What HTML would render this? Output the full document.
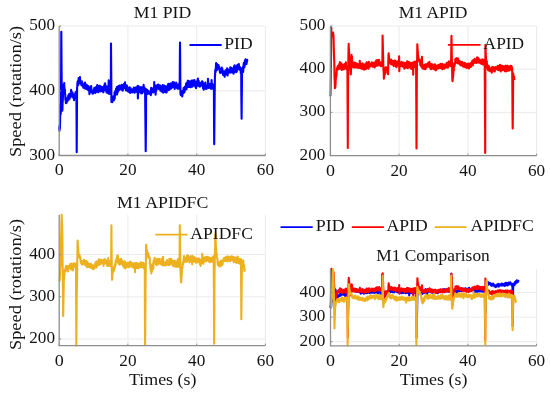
<!DOCTYPE html><html><head><meta charset="utf-8"><style>html,body{margin:0;padding:0;background:#fff;}svg{display:block;filter:blur(0.35px);}</style></head><body><svg width="550" height="393" viewBox="0 0 550 393"><rect width="550" height="393" fill="#ffffff"/><line x1="59.2" y1="155.5" x2="265.4" y2="155.5" stroke="#ebebeb" stroke-width="1"/><line x1="59.2" y1="90.8" x2="265.4" y2="90.8" stroke="#ebebeb" stroke-width="1"/><line x1="59.2" y1="26.0" x2="265.4" y2="26.0" stroke="#ebebeb" stroke-width="1"/><line x1="127.9" y1="26.0" x2="127.9" y2="155.5" stroke="#ebebeb" stroke-width="1"/><line x1="196.7" y1="26.0" x2="196.7" y2="155.5" stroke="#ebebeb" stroke-width="1"/><line x1="265.4" y1="26.0" x2="265.4" y2="155.5" stroke="#ebebeb" stroke-width="1"/><line x1="330.4" y1="155.6" x2="536.6" y2="155.6" stroke="#ebebeb" stroke-width="1"/><line x1="330.4" y1="112.4" x2="536.6" y2="112.4" stroke="#ebebeb" stroke-width="1"/><line x1="330.4" y1="69.2" x2="536.6" y2="69.2" stroke="#ebebeb" stroke-width="1"/><line x1="330.4" y1="26.0" x2="536.6" y2="26.0" stroke="#ebebeb" stroke-width="1"/><line x1="399.1" y1="26.0" x2="399.1" y2="155.6" stroke="#ebebeb" stroke-width="1"/><line x1="467.9" y1="26.0" x2="467.9" y2="155.6" stroke="#ebebeb" stroke-width="1"/><line x1="536.6" y1="26.0" x2="536.6" y2="155.6" stroke="#ebebeb" stroke-width="1"/><line x1="59.2" y1="339.0" x2="265.4" y2="339.0" stroke="#ebebeb" stroke-width="1"/><line x1="59.2" y1="296.8" x2="265.4" y2="296.8" stroke="#ebebeb" stroke-width="1"/><line x1="59.2" y1="254.5" x2="265.4" y2="254.5" stroke="#ebebeb" stroke-width="1"/><line x1="127.9" y1="214.7" x2="127.9" y2="345.6" stroke="#ebebeb" stroke-width="1"/><line x1="196.7" y1="214.7" x2="196.7" y2="345.6" stroke="#ebebeb" stroke-width="1"/><line x1="265.4" y1="214.7" x2="265.4" y2="345.6" stroke="#ebebeb" stroke-width="1"/><line x1="330.5" y1="341.7" x2="536.6" y2="341.7" stroke="#ebebeb" stroke-width="1"/><line x1="330.5" y1="317.1" x2="536.6" y2="317.1" stroke="#ebebeb" stroke-width="1"/><line x1="330.5" y1="292.5" x2="536.6" y2="292.5" stroke="#ebebeb" stroke-width="1"/><line x1="399.2" y1="268.8" x2="399.2" y2="345.8" stroke="#ebebeb" stroke-width="1"/><line x1="467.9" y1="268.8" x2="467.9" y2="345.8" stroke="#ebebeb" stroke-width="1"/><line x1="536.6" y1="268.8" x2="536.6" y2="345.8" stroke="#ebebeb" stroke-width="1"/><polyline fill="none" stroke="#0000ff" stroke-width="2.1" stroke-linejoin="round" points="59.2,129.7 59.4,126.1 59.5,130.7 59.7,126.9 59.9,128.7 60.1,119.9 60.2,110.4 60.4,105.0 60.6,107.3 60.7,114.2 60.9,110.0 61.1,73.4 61.3,31.7 61.4,45.0 61.6,71.1 61.8,90.8 61.9,98.9 62.1,105.0 62.3,110.8 62.5,107.9 62.6,100.4 62.8,101.1 63.0,94.3 63.2,89.6 63.3,87.3 63.5,84.9 63.6,85.4 63.8,87.5 64.0,88.2 64.2,83.1 64.4,87.4 64.5,89.8 64.7,90.2 64.9,89.4 65.0,93.8 65.2,94.0 65.4,99.9 65.5,97.9 65.7,99.9 65.9,103.1 66.1,98.7 66.2,99.4 66.4,101.7 66.6,102.7 66.8,98.5 66.9,100.5 67.1,100.7 67.3,98.4 67.5,101.1 67.6,97.6 67.8,97.9 68.0,97.0 68.1,99.2 68.3,95.4 68.5,98.0 68.7,99.8 68.8,95.0 69.0,95.5 69.2,94.0 69.3,95.9 69.5,96.2 69.7,98.6 69.9,95.6 70.0,94.4 70.2,93.5 70.4,96.7 70.5,95.3 70.7,93.2 70.9,92.2 71.1,89.9 71.3,93.1 71.4,92.8 71.6,91.2 71.7,94.6 71.9,94.0 72.1,96.7 72.3,94.3 72.4,92.5 72.6,92.8 72.8,94.5 72.9,96.3 73.1,96.6 73.3,96.1 73.5,98.5 73.6,96.6 73.8,98.7 74.0,97.4 74.1,100.3 74.3,97.3 74.5,98.4 74.7,94.3 74.8,97.3 75.0,94.4 75.2,97.4 75.4,93.7 75.5,92.2 75.7,93.0 75.9,92.2 76.0,91.8 76.2,93.4 76.4,92.9 76.6,125.6 76.7,152.2 76.9,117.6 77.1,87.4 77.2,87.5 77.4,83.5 77.6,82.0 77.8,81.1 77.9,83.7 78.1,85.3 78.3,84.2 78.4,83.6 78.6,78.1 78.8,79.7 79.0,83.4 79.1,81.0 79.3,80.9 79.5,79.0 79.6,80.9 79.8,79.6 80.0,77.1 80.2,81.6 80.3,82.4 80.5,82.2 80.7,82.2 80.9,83.1 81.0,83.8 81.2,83.7 81.4,83.6 81.5,85.5 81.7,84.4 81.9,81.3 82.1,83.4 82.2,83.8 82.4,83.3 82.6,85.2 82.7,83.4 82.9,84.7 83.1,84.8 83.3,87.6 83.4,86.2 83.6,87.5 83.8,87.7 83.9,85.1 84.1,85.6 84.3,86.9 84.5,84.8 84.6,85.5 84.8,88.5 85.0,82.5 85.1,86.7 85.3,87.1 85.5,84.3 85.7,87.9 85.8,85.3 86.0,87.0 86.2,86.5 86.3,88.9 86.5,84.7 86.7,88.4 86.9,85.1 87.0,86.1 87.2,85.9 87.4,88.1 87.6,87.9 87.7,89.5 87.9,86.6 88.1,90.1 88.2,86.0 88.4,87.9 88.6,90.4 88.8,89.4 89.0,89.2 89.1,90.8 89.3,91.3 89.4,94.1 89.6,90.1 89.8,87.7 90.0,90.9 90.1,87.5 90.3,90.2 90.5,91.4 90.6,86.4 90.8,92.2 91.0,90.1 91.2,86.0 91.3,91.6 91.5,88.9 91.7,91.5 91.8,90.8 92.0,90.5 92.2,92.2 92.4,90.5 92.5,93.7 92.7,92.2 92.9,91.4 93.1,91.6 93.2,93.4 93.4,92.1 93.6,90.6 93.7,92.1 93.9,89.8 94.1,89.8 94.3,87.9 94.4,89.0 94.6,90.2 94.8,90.5 94.9,89.8 95.1,88.7 95.3,93.0 95.5,88.6 95.6,91.6 95.8,87.4 96.0,89.3 96.1,88.2 96.3,92.0 96.5,90.2 96.7,88.7 96.8,86.5 97.0,89.6 97.2,85.1 97.3,91.7 97.5,87.3 97.7,89.7 97.9,87.4 98.0,90.4 98.2,91.9 98.4,92.3 98.5,91.0 98.7,91.0 98.9,89.5 99.1,90.5 99.2,85.9 99.4,87.4 99.6,87.0 99.8,88.3 99.9,86.5 100.1,85.9 100.3,91.3 100.4,91.0 100.6,91.4 100.8,90.3 101.0,88.2 101.1,90.3 101.3,90.4 101.5,90.7 101.6,91.0 101.8,86.9 102.0,87.6 102.2,89.2 102.3,91.3 102.5,88.6 102.7,87.6 102.8,91.7 103.0,89.6 103.2,91.1 103.4,92.2 103.5,89.8 103.7,90.4 103.9,88.9 104.0,86.0 104.2,90.2 104.4,88.6 104.6,84.2 104.7,89.1 104.9,89.3 105.1,83.4 105.3,85.9 105.4,89.7 105.6,90.5 105.8,89.3 105.9,89.4 106.1,87.8 106.3,89.2 106.5,92.5 106.6,86.2 106.8,90.2 107.0,92.0 107.1,92.3 107.3,89.4 107.5,92.7 107.7,87.7 107.8,88.6 108.0,93.2 108.2,87.3 108.3,88.7 108.5,87.9 108.7,80.2 108.9,89.5 109.0,93.5 109.2,93.8 109.4,92.6 109.5,87.2 109.7,90.4 109.9,87.3 110.1,89.6 110.2,85.7 110.4,93.7 110.6,91.4 110.8,90.4 111.0,43.6 111.1,55.6 111.3,78.8 111.4,101.9 111.6,101.4 111.8,98.7 112.0,100.1 112.1,97.2 112.3,102.1 112.5,100.0 112.6,99.8 112.8,97.8 113.0,99.4 113.2,98.1 113.3,96.3 113.5,96.4 113.7,97.1 113.8,100.5 114.0,99.6 114.2,98.0 114.4,97.5 114.5,92.6 114.7,98.7 114.9,95.1 115.0,94.6 115.2,91.0 115.4,94.7 115.6,94.5 115.8,92.0 115.9,93.2 116.1,88.9 116.2,89.1 116.4,92.1 116.6,92.0 116.8,87.0 116.9,89.9 117.1,94.4 117.3,88.4 117.5,89.5 117.6,92.7 117.8,89.6 118.0,91.6 118.1,91.1 118.3,86.1 118.5,88.1 118.7,87.6 118.8,87.9 119.0,90.2 119.2,86.8 119.3,88.6 119.5,85.5 119.7,86.7 119.9,88.1 120.0,88.8 120.2,88.1 120.4,87.5 120.5,87.2 120.7,87.8 120.9,88.6 121.1,86.9 121.2,89.8 121.4,86.5 121.6,84.8 121.7,85.7 121.9,86.8 122.1,88.9 122.3,87.5 122.4,88.0 122.6,85.3 122.8,90.6 123.0,85.2 123.1,88.9 123.3,88.0 123.5,87.3 123.6,87.0 123.8,88.2 124.0,83.9 124.2,86.3 124.3,84.0 124.5,86.2 124.7,86.6 124.8,84.3 125.0,82.3 125.2,88.5 125.4,87.1 125.5,87.9 125.7,86.1 125.9,89.8 126.0,90.4 126.2,87.2 126.4,86.8 126.6,87.5 126.7,85.2 126.9,86.9 127.1,88.5 127.2,86.4 127.4,88.7 127.6,88.9 127.8,91.2 127.9,89.6 128.1,87.7 128.3,89.3 128.4,91.6 128.6,88.2 128.8,91.6 129.0,91.7 129.1,90.7 129.3,89.7 129.5,91.0 129.7,87.4 129.8,92.4 130.0,90.2 130.2,93.0 130.3,92.7 130.5,92.7 130.7,88.4 130.9,90.1 131.0,89.6 131.2,92.3 131.4,89.9 131.5,92.3 131.7,91.7 131.9,90.1 132.1,92.3 132.2,91.7 132.4,92.3 132.6,91.0 132.7,89.3 132.9,90.8 133.1,89.3 133.3,89.0 133.4,90.6 133.6,88.3 133.8,89.6 133.9,87.5 134.1,87.7 134.3,91.6 134.5,92.8 134.6,91.0 134.8,90.6 135.0,90.8 135.2,89.2 135.3,92.0 135.5,89.2 135.7,88.7 135.8,89.2 136.0,87.4 136.2,87.8 136.4,91.7 136.5,91.8 136.7,88.6 136.9,91.5 137.0,88.1 137.2,91.0 137.4,91.2 137.6,89.4 137.7,85.8 137.9,98.5 138.1,91.4 138.2,86.7 138.4,90.0 138.6,91.3 138.8,86.5 138.9,91.8 139.1,91.7 139.3,88.7 139.4,89.2 139.6,88.7 139.8,90.5 140.0,88.5 140.1,92.5 140.3,89.9 140.5,89.2 140.6,87.5 140.8,87.1 141.0,87.5 141.2,93.5 141.3,90.1 141.5,90.0 141.7,87.4 141.9,90.2 142.0,93.3 142.2,93.2 142.4,91.7 142.5,89.6 142.7,92.4 142.9,90.2 143.1,91.6 143.2,90.9 143.4,90.7 143.6,84.9 143.7,91.2 143.9,89.6 144.1,87.8 144.3,87.4 144.4,87.4 144.6,91.4 144.8,89.6 144.9,88.4 145.1,90.0 145.3,111.0 145.5,128.9 145.7,151.3 145.8,141.3 146.0,122.1 146.1,90.7 146.3,89.4 146.5,92.2 146.7,93.8 146.8,91.8 147.0,92.5 147.2,90.1 147.4,93.9 147.5,91.4 147.7,91.4 147.9,90.6 148.0,90.5 148.2,93.6 148.4,93.3 148.6,93.5 148.7,92.1 148.9,93.6 149.1,93.2 149.2,93.8 149.4,93.6 149.6,92.4 149.8,93.1 149.9,92.7 150.1,91.8 150.3,93.5 150.4,91.3 150.6,90.7 150.8,95.2 151.0,91.9 151.1,88.0 151.3,87.8 151.5,88.8 151.6,92.9 151.8,88.7 152.0,89.4 152.2,89.3 152.3,88.9 152.5,90.5 152.7,88.7 152.8,89.0 153.0,89.2 153.2,91.3 153.4,92.1 153.5,92.3 153.7,88.5 153.9,87.1 154.1,91.0 154.2,82.0 154.4,90.4 154.6,87.8 154.7,89.8 154.9,91.6 155.1,89.4 155.3,92.1 155.4,91.4 155.6,94.6 155.8,90.7 155.9,85.6 156.1,88.1 156.3,90.7 156.5,87.3 156.6,87.6 156.8,86.9 157.0,88.7 157.1,87.6 157.3,85.0 157.5,87.2 157.7,86.9 157.8,84.9 158.0,88.4 158.2,84.6 158.3,88.2 158.5,85.0 158.7,88.9 158.9,88.5 159.0,88.7 159.2,86.2 159.4,85.8 159.6,86.6 159.7,89.2 159.9,85.3 160.1,85.9 160.2,86.4 160.4,90.6 160.6,85.8 160.8,89.4 160.9,88.8 161.1,90.9 161.3,87.3 161.4,91.4 161.6,88.4 161.8,91.2 162.0,88.5 162.1,90.4 162.3,90.1 162.5,91.1 162.6,87.5 162.8,85.1 163.0,92.1 163.2,92.7 163.3,89.5 163.5,91.3 163.7,87.9 163.8,90.0 164.0,88.4 164.2,85.6 164.4,87.5 164.5,86.1 164.7,86.2 164.9,87.9 165.0,90.4 165.2,92.1 165.4,91.4 165.6,89.8 165.7,86.4 165.9,89.4 166.1,92.5 166.3,92.0 166.4,88.7 166.6,92.3 166.8,90.9 166.9,91.0 167.1,88.8 167.3,86.7 167.5,89.8 167.6,85.7 167.8,85.1 168.0,87.7 168.1,86.1 168.3,83.9 168.5,87.5 168.7,86.9 168.8,90.3 169.0,86.9 169.2,88.9 169.3,84.1 169.5,86.7 169.7,89.3 169.9,86.7 170.0,87.5 170.2,88.5 170.4,86.1 170.5,84.8 170.7,84.8 170.9,83.4 171.1,85.8 171.2,88.2 171.4,88.3 171.6,85.4 171.8,83.5 171.9,86.0 172.1,83.3 172.3,83.4 172.4,86.8 172.6,83.5 172.8,82.0 173.0,82.8 173.1,87.3 173.3,83.1 173.5,83.4 173.6,85.7 173.8,86.4 174.0,82.4 174.2,86.8 174.3,87.3 174.5,83.2 174.7,89.0 174.8,86.5 175.0,87.8 175.2,86.5 175.4,86.0 175.5,84.9 175.7,87.0 175.9,83.7 176.0,83.1 176.2,82.6 176.4,86.4 176.6,85.5 176.7,86.3 176.9,87.9 177.1,86.2 177.2,85.2 177.4,85.1 177.6,88.7 177.8,87.3 177.9,84.5 178.1,86.3 178.3,85.5 178.5,88.6 178.6,85.7 178.8,87.1 179.0,88.5 179.1,86.2 179.3,83.5 179.5,82.9 179.7,86.5 179.8,66.2 180.0,42.5 180.2,61.1 180.3,79.4 180.5,94.5 180.7,90.6 180.9,93.3 181.0,95.1 181.2,91.4 181.4,94.8 181.5,91.7 181.7,94.6 181.9,94.6 182.0,94.2 182.2,96.4 182.4,95.6 182.6,90.8 182.7,90.9 182.9,93.4 183.1,90.5 183.3,90.2 183.4,90.7 183.6,88.1 183.8,87.9 184.0,92.7 184.1,91.7 184.3,88.1 184.5,87.3 184.6,92.0 184.8,86.9 185.0,87.8 185.2,89.2 185.3,88.9 185.5,89.7 185.7,86.2 185.8,89.1 186.0,85.2 186.2,83.4 186.4,84.0 186.5,89.3 186.7,84.1 186.9,83.2 187.0,86.7 187.2,85.3 187.4,82.3 187.6,87.2 187.7,80.9 187.9,80.7 188.1,80.9 188.2,81.6 188.4,86.2 188.6,82.5 188.8,81.1 188.9,87.0 189.1,81.3 189.3,84.9 189.4,83.4 189.6,83.8 189.8,83.0 190.0,85.7 190.1,84.9 190.3,82.8 190.5,87.3 190.7,85.3 190.8,81.3 191.0,81.1 191.2,85.9 191.4,81.8 191.5,85.8 191.7,80.6 191.9,81.0 192.0,84.9 192.2,86.8 192.4,83.3 192.5,80.5 192.7,82.5 192.9,83.9 193.1,80.9 193.2,82.7 193.4,83.1 193.6,85.7 193.7,80.3 193.9,81.2 194.1,82.7 194.3,84.4 194.4,80.0 194.6,85.5 194.8,85.3 194.9,83.4 195.1,82.9 195.3,83.1 195.5,87.1 195.6,82.3 195.8,83.7 196.0,88.1 196.2,85.0 196.3,81.5 196.5,82.6 196.7,86.5 196.8,85.2 197.0,82.8 197.2,81.6 197.4,81.2 197.5,84.1 197.7,79.3 197.9,78.6 198.0,82.3 198.2,84.8 198.4,81.1 198.6,82.7 198.7,80.8 198.9,86.3 199.1,83.9 199.2,84.2 199.4,86.1 199.6,83.0 199.8,84.4 199.9,86.6 200.1,86.4 200.3,83.0 200.4,83.3 200.6,84.7 200.8,84.2 201.0,85.8 201.1,83.1 201.3,84.2 201.5,85.3 201.6,82.4 201.8,81.7 202.0,81.3 202.2,84.1 202.3,82.4 202.5,83.2 202.7,81.9 202.9,85.5 203.0,88.2 203.2,87.6 203.4,86.9 203.5,87.8 203.7,89.6 203.9,83.9 204.1,87.1 204.2,87.6 204.4,83.5 204.6,84.6 204.7,83.7 204.9,87.3 205.1,84.3 205.3,82.6 205.4,85.5 205.6,88.8 205.8,86.0 205.9,88.4 206.1,89.0 206.3,86.4 206.5,88.8 206.6,87.5 206.8,88.5 207.0,86.6 207.1,87.8 207.3,85.6 207.5,85.9 207.7,84.5 207.8,84.1 208.0,78.8 208.2,81.8 208.4,85.0 208.5,85.9 208.7,88.0 208.9,83.5 209.0,87.8 209.2,86.7 209.4,83.8 209.6,83.8 209.7,87.4 209.9,86.9 210.1,86.4 210.2,86.9 210.4,88.0 210.6,86.2 210.8,86.6 210.9,84.8 211.1,88.9 211.3,88.5 211.4,84.8 211.6,80.0 211.8,83.2 212.0,84.8 212.1,84.8 212.3,87.2 212.5,85.2 212.6,86.1 212.8,87.6 213.0,84.6 213.2,89.0 213.3,86.0 213.5,88.1 213.7,89.3 213.9,88.3 214.0,114.6 214.2,144.2 214.4,124.2 214.5,113.0 214.7,93.8 214.9,76.9 215.1,74.6 215.2,70.5 215.4,70.0 215.6,72.3 215.7,68.7 215.9,66.5 216.1,63.1 216.2,64.5 216.4,65.5 216.6,66.2 216.8,65.7 216.9,63.8 217.1,70.1 217.3,69.3 217.5,65.2 217.6,66.7 217.8,66.6 218.0,67.3 218.1,68.8 218.3,68.0 218.5,65.0 218.7,67.0 218.8,68.8 219.0,66.5 219.2,66.8 219.3,68.9 219.5,68.1 219.7,70.3 219.9,72.6 220.0,68.7 220.2,73.0 220.4,69.3 220.6,71.6 220.7,70.8 220.9,68.7 221.1,72.7 221.2,70.4 221.4,71.6 221.6,71.9 221.8,67.5 221.9,70.4 222.1,72.3 222.3,71.1 222.4,68.9 222.6,70.0 222.8,70.7 223.0,73.2 223.1,74.9 223.3,71.5 223.5,72.5 223.6,73.6 223.8,75.1 224.0,73.9 224.2,72.6 224.3,75.1 224.5,74.2 224.7,76.8 224.8,72.4 225.0,74.0 225.2,73.9 225.4,70.3 225.5,74.6 225.7,74.5 225.9,70.3 226.1,70.8 226.2,71.2 226.4,74.5 226.6,71.6 226.7,73.3 226.9,73.2 227.1,68.3 227.3,69.6 227.4,71.6 227.6,75.4 227.8,72.4 227.9,69.3 228.1,72.4 228.3,72.6 228.5,71.4 228.6,72.7 228.8,70.6 229.0,69.9 229.1,71.8 229.3,70.9 229.5,70.6 229.7,71.0 229.8,71.7 230.0,72.3 230.2,68.5 230.3,67.3 230.5,72.6 230.7,68.1 230.9,68.4 231.0,70.1 231.2,67.7 231.4,70.6 231.5,71.5 231.7,71.8 231.9,71.8 232.1,70.9 232.2,72.4 232.4,69.1 232.6,71.1 232.8,70.3 232.9,68.3 233.1,71.9 233.3,71.6 233.4,69.9 233.6,73.8 233.8,69.1 234.0,69.2 234.1,66.0 234.3,68.6 234.5,70.5 234.6,65.4 234.8,71.9 235.0,70.7 235.2,67.7 235.3,68.5 235.5,69.7 235.7,66.8 235.8,69.8 236.0,70.7 236.2,66.8 236.4,72.3 236.5,68.0 236.7,69.8 236.9,71.3 237.0,66.7 237.2,68.4 237.4,64.7 237.6,67.0 237.7,67.1 237.9,68.5 238.1,69.2 238.3,65.1 238.4,69.2 238.6,65.6 238.8,67.2 238.9,64.1 239.1,68.2 239.3,68.0 239.5,69.1 239.6,66.9 239.8,67.0 240.0,68.2 240.1,70.1 240.3,67.5 240.5,68.3 240.7,71.5 240.8,73.4 241.0,72.2 241.2,70.2 241.3,93.0 241.6,118.8 241.7,106.7 241.9,88.6 242.0,68.2 242.2,70.8 242.4,70.5 242.5,70.3 242.7,69.5 242.9,68.0 243.1,66.6 243.2,72.0 243.4,66.5 243.6,65.1 243.7,64.0 243.9,62.7 244.1,62.7 244.3,67.4 244.4,63.7 244.6,66.6 244.8,60.9 245.0,60.2 245.1,63.4 245.3,61.0 245.5,61.1 245.6,59.2 245.8,63.4 246.0,64.2 246.2,60.3 246.3,59.9 246.5,63.9 246.7,61.1 246.8,61.3 247.0,61.9 247.2,59.9 247.4,61.0"/><polyline fill="none" stroke="#ff0000" stroke-width="2.1" stroke-linejoin="round" points="330.4,96.2 330.6,92.8 330.7,86.3 330.9,71.4 331.1,49.6 331.3,27.6 331.4,30.9 331.6,33.1 331.8,32.9 331.9,32.7 332.1,34.0 332.3,36.1 332.5,34.6 332.6,33.7 332.8,34.6 333.0,34.7 333.1,32.5 333.3,35.1 333.5,34.8 333.7,42.5 333.8,48.8 334.0,54.5 334.2,60.4 334.4,67.8 334.5,76.5 334.7,80.3 334.9,88.3 335.0,86.4 335.2,87.8 335.4,86.2 335.6,84.2 335.7,79.3 335.9,79.0 336.1,76.2 336.2,74.4 336.4,76.1 336.6,73.0 336.8,70.0 336.9,68.9 337.1,69.9 337.3,67.2 337.4,69.2 337.6,67.2 337.8,68.6 338.0,65.9 338.1,67.3 338.3,67.2 338.5,67.5 338.7,66.9 338.8,69.2 339.0,65.2 339.2,66.9 339.3,64.1 339.5,63.7 339.7,65.7 339.9,62.0 340.0,68.4 340.2,63.4 340.4,64.5 340.5,65.4 340.7,67.2 340.9,66.1 341.1,63.3 341.3,63.5 341.4,67.3 341.6,63.6 341.7,69.9 341.9,68.3 342.1,68.7 342.3,68.8 342.5,69.6 342.6,67.6 342.8,68.4 342.9,67.5 343.1,67.3 343.3,67.8 343.5,64.9 343.6,68.9 343.8,66.8 344.0,67.7 344.1,69.2 344.3,67.2 344.5,64.1 344.7,64.7 344.8,68.6 345.0,65.6 345.2,67.6 345.3,64.9 345.5,66.4 345.7,68.1 345.9,62.4 346.0,66.1 346.2,67.9 346.4,68.1 346.6,67.3 346.7,67.5 346.9,66.5 347.1,69.9 347.2,68.7 347.4,67.3 347.6,104.6 347.8,148.0 347.9,116.1 348.1,78.1 348.3,65.8 348.4,55.6 348.7,43.7 348.8,48.5 349.0,48.6 349.1,50.8 349.3,56.7 349.5,59.6 349.6,60.7 349.8,62.8 350.0,62.6 350.2,65.9 350.3,67.5 350.5,71.2 350.7,69.7 350.8,74.5 351.0,70.9 351.2,65.3 351.4,59.5 351.5,54.9 351.7,56.6 351.9,56.4 352.1,58.7 352.2,60.9 352.4,61.3 352.6,63.9 352.7,63.6 352.9,64.5 353.1,62.5 353.3,67.5 353.4,64.8 353.6,64.8 353.8,64.7 353.9,66.9 354.1,66.5 354.3,66.0 354.5,67.5 354.6,67.5 354.8,62.5 355.0,65.1 355.1,67.5 355.3,65.9 355.5,66.4 355.7,64.5 355.8,67.5 356.0,63.9 356.2,63.2 356.3,66.9 356.5,65.2 356.7,66.1 356.9,63.6 357.0,67.4 357.2,64.6 357.4,64.2 357.5,64.6 357.7,64.3 357.9,64.2 358.1,67.9 358.2,67.9 358.4,66.9 358.6,65.4 358.8,65.1 358.9,65.6 359.1,65.5 359.3,64.4 359.4,67.1 359.6,67.9 359.8,60.9 360.0,67.0 360.1,65.0 360.3,63.2 360.5,68.1 360.6,65.8 360.8,64.9 361.0,66.1 361.2,64.5 361.3,66.5 361.5,65.2 361.6,67.3 361.8,67.3 362.0,68.9 362.2,63.7 362.4,63.4 362.5,68.8 362.7,64.5 362.9,63.9 363.0,64.4 363.2,67.5 363.4,65.3 363.6,67.6 363.7,68.6 363.9,65.0 364.1,69.6 364.3,66.0 364.4,66.3 364.6,67.2 364.8,64.4 364.9,67.4 365.1,66.5 365.3,65.6 365.5,67.2 365.6,65.5 365.8,69.1 366.0,64.0 366.1,64.8 366.3,67.1 366.5,62.4 366.7,65.6 366.8,63.9 367.0,63.1 367.2,66.2 367.3,68.0 367.5,62.8 367.7,63.4 367.9,67.3 368.0,66.9 368.2,65.8 368.4,63.8 368.5,68.6 368.7,63.1 368.9,61.7 369.1,66.9 369.2,64.8 369.4,64.4 369.6,64.5 369.7,65.8 369.9,65.1 370.1,63.5 370.3,65.2 370.4,64.1 370.6,66.5 370.8,64.3 371.0,64.5 371.1,65.6 371.3,64.5 371.5,64.8 371.6,63.6 371.8,62.3 372.0,65.1 372.2,64.1 372.3,65.0 372.5,62.8 372.7,63.6 372.8,66.6 373.0,64.9 373.2,66.7 373.4,64.9 373.5,66.1 373.7,62.9 373.9,65.2 374.0,65.9 374.2,64.1 374.4,66.1 374.6,62.7 374.7,67.4 374.9,65.9 375.1,66.0 375.2,65.0 375.4,61.9 375.6,65.3 375.8,64.7 375.9,66.0 376.1,60.6 376.3,63.1 376.5,63.3 376.6,64.8 376.8,63.6 377.0,63.0 377.1,60.3 377.3,60.1 377.5,63.1 377.7,61.0 377.8,65.6 378.0,62.4 378.2,65.3 378.3,63.0 378.5,64.0 378.7,60.3 378.9,63.1 379.0,59.7 379.2,64.6 379.4,63.6 379.5,64.2 379.7,63.0 379.9,64.7 380.1,63.2 380.2,65.8 380.4,64.1 380.6,62.3 380.7,66.1 380.9,64.6 381.1,65.1 381.3,66.3 381.4,64.7 381.6,62.8 381.8,64.1 381.9,64.3 382.1,65.8 382.3,63.9 382.5,48.9 382.6,35.6 382.8,43.7 383.0,52.9 383.2,60.1 383.3,64.8 383.5,70.6 383.7,72.2 383.9,78.8 384.0,77.0 384.2,76.2 384.4,73.4 384.5,71.8 384.7,73.3 384.9,74.5 385.0,70.5 385.2,69.4 385.4,67.8 385.6,67.4 385.7,68.1 385.9,69.6 386.1,69.5 386.2,69.2 386.4,67.4 386.6,69.2 386.8,69.7 386.9,68.7 387.1,70.4 387.3,73.0 387.4,69.8 387.6,73.3 387.8,71.4 388.0,74.3 388.1,74.3 388.3,61.8 388.5,54.5 388.7,53.3 388.8,56.4 389.0,56.2 389.2,61.0 389.3,59.9 389.5,61.1 389.7,62.5 389.9,60.8 390.0,62.8 390.2,62.9 390.4,61.5 390.5,60.7 390.7,63.4 390.9,64.2 391.1,59.6 391.2,63.1 391.4,63.4 391.6,64.1 391.7,61.3 391.9,63.6 392.1,63.4 392.3,61.0 392.4,64.6 392.6,60.7 392.8,61.2 392.9,62.0 393.1,62.3 393.3,63.2 393.5,62.3 393.6,61.7 393.8,66.1 394.0,64.8 394.2,60.9 394.3,65.3 394.5,65.2 394.7,60.6 394.8,61.0 395.0,61.3 395.2,62.5 395.4,64.5 395.5,60.9 395.7,62.2 395.9,62.4 396.0,66.6 396.2,65.8 396.4,67.1 396.6,62.7 396.7,65.6 396.9,65.7 397.1,63.7 397.2,64.5 397.4,62.6 397.6,61.4 397.8,61.6 397.9,64.3 398.1,61.6 398.3,64.6 398.4,63.3 398.6,65.2 398.8,61.0 399.0,64.7 399.1,56.3 399.3,71.2 399.5,64.3 399.6,66.8 399.8,64.4 400.0,62.5 400.2,63.4 400.3,65.5 400.5,66.4 400.7,65.3 400.9,63.6 401.0,65.1 401.2,65.8 401.4,64.2 401.5,61.9 401.7,64.0 401.9,63.9 402.1,66.1 402.2,65.3 402.4,65.4 402.6,66.3 402.7,64.7 402.9,66.6 403.1,62.6 403.3,64.4 403.4,66.6 403.6,66.8 403.8,63.2 403.9,66.3 404.1,62.7 404.3,68.6 404.5,64.7 404.6,64.9 404.8,63.9 405.0,67.2 405.1,64.5 405.3,63.5 405.5,64.0 405.7,63.1 405.8,65.2 406.0,67.8 406.2,64.0 406.4,67.0 406.5,66.7 406.7,64.3 406.9,66.2 407.0,61.2 407.2,63.7 407.4,67.9 407.6,64.0 407.7,61.6 407.9,68.1 408.1,65.2 408.2,64.7 408.4,64.2 408.6,66.8 408.8,62.5 408.9,65.6 409.1,66.4 409.3,64.4 409.4,63.4 409.6,62.3 409.8,63.7 410.0,67.4 410.1,65.0 410.3,67.7 410.5,64.6 410.6,66.7 410.8,64.4 411.0,63.3 411.2,67.9 411.3,68.9 411.5,64.0 411.7,63.5 411.8,66.4 412.0,62.8 412.2,64.7 412.4,65.8 412.5,64.8 412.7,66.0 412.9,62.5 413.1,64.6 413.2,74.7 413.4,65.4 413.6,62.4 413.7,65.4 413.9,63.6 414.1,65.3 414.3,67.1 414.4,62.8 414.6,67.2 414.8,61.5 414.9,65.9 415.1,63.0 415.3,62.8 415.5,63.5 415.6,66.1 415.8,61.7 416.0,65.7 416.1,65.0 416.3,105.8 416.5,148.5 416.7,114.9 416.8,78.0 417.0,67.1 417.2,56.7 417.3,44.2 417.5,47.0 417.7,51.2 417.9,52.7 418.0,55.2 418.2,55.4 418.4,58.1 418.6,60.8 418.7,59.9 418.9,60.9 419.1,60.5 419.2,60.7 419.4,60.9 419.6,61.9 419.8,59.6 419.9,61.3 420.1,60.8 420.3,65.1 420.4,62.6 420.6,64.6 420.8,62.4 421.0,64.2 421.1,63.5 421.3,66.6 421.5,64.3 421.6,64.9 421.8,65.7 422.0,56.8 422.2,66.1 422.3,67.9 422.5,68.1 422.7,65.9 422.8,67.8 423.1,68.7 423.2,66.7 423.4,67.8 423.5,65.3 423.7,66.6 423.9,68.4 424.0,66.7 424.2,65.5 424.4,69.0 424.6,64.9 424.7,67.0 424.9,68.5 425.1,68.4 425.3,69.3 425.4,64.8 425.6,67.9 425.8,64.2 425.9,66.1 426.1,67.2 426.3,68.0 426.5,66.8 426.6,64.9 426.8,65.9 427.0,66.6 427.1,64.1 427.3,65.3 427.5,65.4 427.7,63.2 427.8,63.9 428.0,65.4 428.2,66.6 428.3,64.6 428.5,66.4 428.7,62.5 428.9,63.2 429.0,64.2 429.2,62.4 429.4,61.9 429.5,65.5 429.7,64.2 429.9,67.5 430.1,64.2 430.2,63.5 430.4,67.2 430.6,68.8 430.8,63.9 430.9,64.3 431.1,68.4 431.3,65.9 431.4,69.1 431.6,67.6 431.8,64.6 432.0,65.4 432.1,64.5 432.3,67.6 432.5,65.4 432.6,64.5 432.8,66.1 433.0,66.0 433.2,68.7 433.3,66.6 433.5,68.4 433.7,66.6 433.8,65.5 434.0,66.2 434.2,67.0 434.4,69.5 434.5,65.3 434.7,66.9 434.9,64.7 435.0,64.2 435.2,67.2 435.4,66.6 435.6,65.4 435.7,70.0 435.9,70.4 436.1,66.0 436.2,67.1 436.4,66.8 436.6,68.9 436.8,69.1 436.9,67.4 437.1,67.7 437.3,65.5 437.5,68.0 437.6,66.7 437.8,65.3 438.0,65.4 438.1,68.4 438.3,65.8 438.5,66.8 438.7,65.9 438.8,64.7 439.0,66.2 439.2,66.7 439.3,68.1 439.5,66.0 439.7,65.7 439.9,65.1 440.0,65.0 440.2,66.1 440.4,67.9 440.5,63.7 440.7,65.1 440.9,68.2 441.1,67.5 441.2,65.5 441.4,67.5 441.6,65.2 441.7,66.6 441.9,66.5 442.1,66.2 442.3,69.2 442.4,63.7 442.6,65.0 442.8,68.7 443.0,65.7 443.1,65.5 443.3,67.1 443.5,66.8 443.6,65.1 443.8,66.0 444.0,66.7 444.2,68.6 444.3,67.5 444.5,67.9 444.7,64.6 444.8,66.1 445.0,67.7 445.2,65.9 445.4,66.2 445.5,67.4 445.7,67.5 445.9,65.4 446.0,67.5 446.2,67.1 446.4,65.4 446.6,63.1 446.7,66.7 446.9,65.1 447.1,62.9 447.2,67.0 447.4,66.2 447.6,65.5 447.8,64.8 447.9,67.8 448.1,64.7 448.3,64.5 448.4,65.3 448.6,63.9 448.8,61.4 449.0,62.7 449.1,65.0 449.3,65.7 449.5,63.4 449.7,65.6 449.8,63.7 450.0,64.7 450.2,61.9 450.3,66.1 450.5,65.0 450.7,63.1 450.9,64.2 451.0,64.4 451.2,55.5 451.4,40.2 451.5,35.9 451.7,49.6 451.9,60.6 452.1,65.3 452.2,73.6 452.4,80.7 452.6,81.2 452.7,78.8 452.9,78.4 453.1,76.2 453.3,74.3 453.4,71.8 453.6,70.3 453.8,70.8 453.9,66.6 454.1,64.5 454.3,63.1 454.5,65.1 454.6,65.9 454.8,62.8 455.0,63.7 455.2,63.8 455.3,59.3 455.5,58.9 455.7,60.9 455.8,60.2 456.0,58.8 456.2,58.7 456.4,58.3 456.5,58.8 456.7,58.4 456.9,61.9 457.0,58.4 457.2,59.5 457.4,63.2 457.6,60.3 457.7,60.9 457.9,62.0 458.1,58.5 458.2,62.3 458.4,59.8 458.6,61.1 458.8,63.0 458.9,63.1 459.1,61.7 459.3,62.7 459.4,64.1 459.6,63.4 459.8,61.1 460.0,64.0 460.1,61.8 460.3,64.6 460.5,64.1 460.6,65.1 460.8,63.6 461.0,65.4 461.2,62.0 461.3,63.6 461.5,62.1 461.7,64.1 461.9,64.7 462.0,64.0 462.2,62.0 462.4,64.0 462.5,65.8 462.7,65.7 462.9,66.3 463.1,66.1 463.2,65.6 463.4,63.5 463.6,66.3 463.7,65.7 463.9,66.7 464.1,65.5 464.3,64.5 464.4,62.8 464.6,65.9 464.8,66.4 464.9,64.0 465.1,66.1 465.3,67.2 465.5,65.6 465.6,63.3 465.8,64.7 466.0,64.1 466.1,65.4 466.3,67.5 466.5,64.8 466.7,65.8 466.8,68.0 467.0,67.0 467.2,64.2 467.4,64.1 467.5,66.3 467.7,64.7 467.9,65.6 468.0,67.5 468.2,66.1 468.4,63.6 468.6,66.9 468.7,65.0 468.9,68.5 469.1,67.0 469.2,64.2 469.4,66.1 469.6,64.7 469.8,65.2 469.9,65.2 470.1,65.1 470.3,66.5 470.4,63.4 470.6,63.7 470.8,67.0 471.0,64.2 471.1,65.3 471.3,63.9 471.5,64.3 471.6,62.2 471.8,63.2 472.0,62.1 472.2,61.3 472.3,61.4 472.5,60.6 472.7,65.0 472.8,65.4 473.0,64.1 473.2,62.2 473.4,63.3 473.5,63.1 473.7,59.9 473.9,62.7 474.1,62.8 474.2,61.9 474.4,59.2 474.6,60.2 474.7,58.9 474.9,62.8 475.1,59.3 475.3,61.1 475.4,61.5 475.6,60.2 475.8,60.5 475.9,59.9 476.1,63.0 476.3,60.9 476.5,60.8 476.6,60.4 476.8,61.2 477.0,62.2 477.1,57.3 477.3,59.7 477.5,62.4 477.7,59.1 477.8,60.0 478.0,57.8 478.2,61.0 478.3,62.5 478.5,58.8 478.7,60.3 478.9,61.3 479.0,62.6 479.2,60.4 479.4,62.5 479.6,59.5 479.7,59.7 479.9,60.5 480.1,62.5 480.2,60.8 480.4,62.4 480.6,63.1 480.8,63.4 480.9,60.3 481.1,63.8 481.3,63.1 481.4,62.5 481.6,60.1 481.8,63.9 482.0,61.4 482.1,63.9 482.3,59.2 482.5,63.9 482.6,59.8 482.8,61.8 483.0,64.5 483.2,64.2 483.3,64.0 483.5,63.0 483.7,61.7 483.8,64.0 484.0,59.8 484.2,60.3 484.4,65.4 484.5,64.2 484.7,62.5 484.9,97.1 485.1,128.0 485.2,152.9 485.4,44.7 485.6,49.4 485.7,52.2 485.9,55.7 486.1,60.0 486.3,60.2 486.4,61.4 486.6,64.3 486.8,61.2 486.9,63.7 487.1,67.6 487.3,65.3 487.5,67.0 487.6,66.0 487.8,67.8 488.0,69.8 488.1,65.6 488.3,70.4 488.5,68.1 488.7,67.9 488.8,69.7 489.0,66.4 489.2,67.4 489.3,69.3 489.5,70.7 489.7,67.8 489.9,69.5 490.0,68.3 490.2,70.3 490.4,71.3 490.5,70.4 490.7,70.8 490.9,68.9 491.1,69.8 491.2,71.1 491.4,70.3 491.6,70.8 491.8,72.7 491.9,70.2 492.1,67.0 492.3,69.7 492.4,68.5 492.6,66.8 492.8,68.7 493.0,70.7 493.1,68.6 493.3,68.2 493.5,70.0 493.6,67.5 493.8,68.6 494.0,69.9 494.2,68.9 494.3,69.1 494.5,71.4 494.7,70.2 494.8,71.4 495.0,67.7 495.2,68.4 495.4,67.0 495.5,69.1 495.7,67.0 495.9,67.1 496.0,67.5 496.2,67.9 496.4,67.3 496.6,67.5 496.7,69.0 496.9,68.7 497.1,67.8 497.3,67.1 497.4,69.8 497.6,69.7 497.8,65.7 497.9,65.7 498.1,68.4 498.3,68.7 498.5,70.2 498.6,66.0 498.8,69.0 499.0,66.1 499.1,66.2 499.3,70.2 499.5,69.7 499.7,67.8 499.8,70.1 500.0,64.9 500.2,65.0 500.3,67.6 500.5,69.4 500.7,67.8 500.9,71.4 501.0,66.7 501.2,69.9 501.4,69.7 501.5,67.6 501.7,66.8 501.9,66.3 502.1,65.8 502.2,66.6 502.4,68.4 502.6,69.4 502.7,70.2 502.9,67.6 503.1,69.5 503.3,66.3 503.4,69.7 503.6,68.6 503.8,67.7 504.0,68.2 504.1,67.3 504.3,67.6 504.5,69.6 504.6,66.5 504.8,71.2 505.0,67.5 505.2,67.4 505.3,65.7 505.5,67.4 505.7,65.8 505.8,65.8 506.0,71.4 506.2,66.6 506.4,67.6 506.5,66.1 506.7,66.5 506.9,67.6 507.0,70.9 507.2,65.7 507.4,67.5 507.6,69.5 507.7,65.7 507.9,68.1 508.1,68.3 508.2,69.1 508.4,66.9 508.6,67.8 508.8,68.1 508.9,70.6 509.1,68.4 509.3,66.9 509.5,69.3 509.6,69.7 509.8,68.1 510.0,69.1 510.1,66.9 510.3,68.1 510.5,65.8 510.7,67.9 510.8,68.7 511.0,66.5 511.2,70.1 511.3,67.5 511.5,66.1 511.7,70.3 511.9,70.6 512.0,67.2 512.2,69.5 512.4,91.9 512.5,113.2 512.7,128.4 512.9,110.4 513.1,90.3 513.2,73.2 513.4,75.0 513.6,77.8 513.7,76.8 513.9,79.2 514.1,76.5 514.3,80.0"/><polyline fill="none" stroke="#edb120" stroke-width="2.1" stroke-linejoin="round" points="59.2,281.3 59.4,281.3 59.6,280.4 59.7,279.2 59.9,276.7 60.1,272.0 60.2,267.6 60.4,266.7 60.5,263.6 60.7,255.5 60.9,245.5 61.1,237.3 61.3,231.0 61.4,223.7 61.6,218.5 61.7,214.9 61.9,221.6 62.1,224.5 62.3,235.0 62.5,250.5 62.6,263.6 62.8,276.8 63.0,296.6 63.2,316.1 63.3,306.4 63.5,297.2 63.7,288.1 63.8,279.5 64.0,279.7 64.2,274.3 64.4,275.4 64.5,275.1 64.7,270.7 64.9,270.0 65.0,271.4 65.2,269.3 65.4,269.5 65.6,267.7 65.7,267.8 65.9,269.0 66.1,266.0 66.2,267.6 66.4,265.9 66.6,266.0 66.8,268.4 66.9,266.4 67.1,266.2 67.3,271.1 67.4,267.4 67.6,268.4 67.8,268.3 68.0,271.4 68.1,267.7 68.3,268.7 68.5,266.1 68.7,267.3 68.8,266.8 69.0,267.0 69.2,266.9 69.3,268.2 69.5,267.2 69.7,265.9 69.9,264.6 70.0,265.8 70.2,264.1 70.4,268.2 70.5,265.8 70.7,269.1 70.9,263.7 71.1,265.6 71.2,265.8 71.4,263.8 71.6,264.6 71.7,265.5 71.9,269.8 72.1,267.6 72.3,269.2 72.5,267.2 72.6,269.4 72.8,265.6 72.9,270.4 73.1,268.2 73.3,267.7 73.5,265.1 73.6,263.4 73.8,264.5 74.0,266.2 74.1,266.0 74.3,265.2 74.5,266.7 74.7,263.2 74.8,265.2 75.0,264.9 75.2,263.9 75.4,264.1 75.5,265.5 75.7,265.4 75.9,267.0 76.0,266.3 76.2,316.8 76.3,345.6 76.6,316.4 76.7,296.3 76.9,285.8 77.1,277.2 77.2,263.2 77.4,253.2 77.6,240.6 77.8,242.8 77.9,245.5 78.1,246.1 78.3,250.6 78.4,254.4 78.6,255.3 78.8,255.2 79.0,257.3 79.1,255.1 79.3,254.4 79.5,256.5 79.6,255.4 79.8,256.8 80.0,257.9 80.2,259.1 80.3,257.7 80.5,258.7 80.7,262.0 80.9,261.4 81.0,261.9 81.2,263.3 81.4,260.9 81.5,263.7 81.7,262.2 81.9,262.4 82.1,264.6 82.2,262.1 82.4,262.7 82.6,261.5 82.7,262.5 82.9,264.2 83.1,263.1 83.3,263.3 83.4,261.4 83.6,262.9 83.8,263.7 83.9,259.7 84.1,263.2 84.3,263.1 84.5,263.0 84.6,264.0 84.8,263.6 85.0,262.7 85.1,261.9 85.3,265.3 85.5,263.2 85.7,262.3 85.8,260.9 86.0,260.9 86.2,264.8 86.3,264.1 86.5,261.4 86.7,266.4 86.9,263.1 87.0,267.1 87.2,263.2 87.4,261.9 87.6,264.2 87.7,264.8 87.9,266.5 88.1,265.9 88.2,264.2 88.4,267.0 88.6,264.6 88.8,265.6 88.9,266.9 89.1,263.7 89.3,267.3 89.4,266.9 89.6,264.4 89.8,264.7 90.0,264.3 90.1,266.4 90.3,266.8 90.5,266.2 90.6,264.6 90.8,266.0 91.0,263.8 91.2,268.3 91.3,266.2 91.5,265.9 91.7,264.5 91.8,266.5 92.0,266.3 92.2,265.0 92.4,266.1 92.5,265.7 92.7,266.8 92.9,267.2 93.1,269.1 93.2,267.3 93.4,267.2 93.6,265.9 93.7,268.1 93.9,269.0 94.1,267.0 94.3,265.0 94.4,265.4 94.6,266.6 94.8,266.9 94.9,266.2 95.1,263.9 95.3,266.8 95.5,262.6 95.6,263.1 95.8,262.3 96.0,267.4 96.1,267.7 96.3,261.6 96.5,265.5 96.7,266.5 96.8,264.5 97.0,262.8 97.2,266.3 97.3,264.2 97.5,262.8 97.7,262.3 97.9,265.2 98.0,261.0 98.2,262.5 98.4,262.1 98.5,261.8 98.7,261.9 98.9,259.2 99.1,264.1 99.2,261.2 99.4,264.6 99.6,262.5 99.8,259.8 99.9,260.6 100.1,263.6 100.3,260.6 100.4,261.3 100.6,264.2 100.8,262.4 101.0,259.9 101.1,260.5 101.3,262.9 101.5,261.4 101.6,260.8 101.8,261.5 102.0,260.5 102.2,261.1 102.3,260.2 102.5,262.3 102.7,262.5 102.8,262.2 103.0,262.8 103.2,264.1 103.4,263.9 103.5,265.9 103.7,260.5 103.9,259.5 104.0,262.9 104.2,263.4 104.4,262.3 104.6,260.6 104.7,262.1 104.9,259.4 105.1,263.4 105.3,259.4 105.4,262.5 105.6,260.9 105.8,260.0 105.9,260.9 106.1,263.4 106.3,263.4 106.5,263.0 106.6,263.8 106.8,263.3 107.0,262.7 107.1,261.5 107.3,265.9 107.5,262.4 107.7,264.6 107.8,264.8 108.0,265.9 108.2,258.0 108.3,261.3 108.5,263.3 108.7,265.0 108.9,263.6 109.0,261.6 109.2,263.0 109.4,265.6 109.5,264.9 109.7,261.2 109.9,263.8 110.1,263.4 110.2,263.0 110.4,264.5 110.6,266.1 110.8,264.7 110.9,266.5 111.1,263.1 111.3,244.0 111.4,225.3 111.6,249.0 111.8,271.0 112.0,278.7 112.1,279.8 112.3,275.7 112.5,273.9 112.6,272.1 112.8,271.5 113.0,268.1 113.2,272.3 113.3,268.1 113.5,271.2 113.7,267.2 113.8,269.8 114.0,267.7 114.2,270.3 114.4,268.0 114.5,266.6 114.7,266.4 114.9,264.6 115.0,266.9 115.2,263.9 115.4,263.0 115.6,264.9 115.7,260.9 115.9,262.5 116.1,261.9 116.2,262.2 116.4,258.9 116.6,261.3 116.8,260.6 116.9,258.6 117.1,257.3 117.3,255.5 117.5,255.8 117.6,255.3 117.8,255.7 118.0,258.4 118.1,258.7 118.3,263.4 118.5,260.6 118.7,260.9 118.8,260.6 119.0,262.5 119.2,262.3 119.3,261.1 119.5,259.6 119.7,264.7 119.9,264.6 120.0,261.5 120.2,262.3 120.4,262.2 120.5,261.0 120.7,260.1 120.9,263.0 121.1,258.7 121.2,259.6 121.4,262.1 121.6,260.8 121.7,263.4 121.9,261.6 122.1,264.2 122.2,262.9 122.4,260.8 122.6,263.8 122.8,262.1 123.0,266.0 123.1,262.7 123.3,266.3 123.5,265.4 123.6,262.3 123.8,265.2 124.0,266.9 124.2,266.3 124.3,262.8 124.5,268.0 124.7,266.2 124.8,261.3 125.0,262.1 125.2,266.3 125.4,268.5 125.5,262.9 125.7,264.5 125.9,264.5 126.0,265.7 126.2,265.8 126.4,264.0 126.6,265.1 126.7,266.5 126.9,267.0 127.1,264.0 127.2,263.5 127.4,263.1 127.6,262.7 127.8,265.2 127.9,265.3 128.1,265.9 128.3,266.1 128.4,265.7 128.6,262.8 128.8,267.3 129.0,266.3 129.1,263.3 129.3,264.7 129.5,265.2 129.7,262.6 129.8,262.6 130.0,266.4 130.2,266.0 130.3,261.6 130.5,263.3 130.7,264.5 130.9,264.4 131.0,262.9 131.2,262.5 131.4,266.5 131.5,264.2 131.7,266.2 131.9,266.4 132.1,265.6 132.2,266.6 132.4,263.9 132.6,265.3 132.7,263.6 132.9,265.4 133.1,266.1 133.3,267.6 133.4,266.4 133.6,263.3 133.8,266.5 133.9,265.2 134.1,266.3 134.3,263.4 134.5,264.4 134.6,264.7 134.8,264.7 135.0,272.1 135.2,265.3 135.3,264.9 135.5,265.0 135.7,263.6 135.8,263.1 136.0,267.9 136.2,266.0 136.4,266.9 136.5,266.1 136.7,263.9 136.9,263.0 137.0,263.4 137.2,268.3 137.4,263.3 137.6,264.1 137.7,265.9 137.9,264.1 138.1,266.6 138.2,267.3 138.4,264.0 138.6,268.2 138.8,267.5 138.9,264.9 139.1,263.7 139.3,264.8 139.4,266.6 139.6,266.4 139.8,264.2 140.0,264.7 140.1,265.8 140.3,266.5 140.5,265.9 140.6,262.3 140.8,267.2 141.0,264.2 141.2,262.9 141.3,263.8 141.5,265.9 141.7,263.9 141.9,267.1 142.0,265.0 142.2,265.8 142.4,263.9 142.5,264.3 142.7,262.9 142.9,264.7 143.1,263.7 143.2,262.8 143.4,266.7 143.6,266.1 143.7,267.1 143.9,268.2 144.1,263.7 144.3,268.2 144.4,264.8 144.6,265.8 144.8,265.0 144.9,303.6 145.1,344.7 145.3,321.5 145.5,296.9 145.6,282.4 145.8,265.9 146.0,252.1 146.1,244.7 146.3,247.2 146.5,251.4 146.7,251.2 146.8,249.7 147.0,250.9 147.2,254.0 147.4,256.2 147.5,255.8 147.7,252.9 147.9,254.7 148.0,255.5 148.2,253.4 148.4,254.1 148.6,257.8 148.7,255.7 148.9,258.0 149.1,258.1 149.2,256.3 149.4,257.6 149.6,257.4 149.8,260.4 149.9,263.9 150.1,262.2 150.3,266.2 150.4,269.0 150.6,264.5 150.8,270.1 151.0,271.7 151.2,271.1 151.3,273.5 151.5,268.5 151.6,272.1 151.8,271.6 152.0,266.9 152.2,267.7 152.3,264.9 152.5,264.4 152.7,265.2 152.8,269.4 153.0,265.8 153.2,268.5 153.4,267.0 153.5,261.1 153.7,263.3 153.9,263.1 154.1,262.3 154.2,259.9 154.4,260.7 154.6,257.9 154.7,260.7 154.9,258.9 155.1,259.0 155.3,261.0 155.4,261.0 155.6,261.9 155.8,260.3 155.9,264.2 156.1,262.1 156.3,261.2 156.5,263.5 156.6,263.4 156.8,265.3 157.0,260.9 157.1,259.8 157.3,258.8 157.5,260.6 157.7,260.8 157.8,264.3 158.0,259.7 158.2,261.6 158.3,260.6 158.5,263.3 158.7,260.6 158.9,263.4 159.0,258.8 159.2,261.9 159.4,261.1 159.6,261.3 159.7,263.2 159.9,262.2 160.1,263.6 160.2,263.4 160.4,263.0 160.6,263.8 160.8,262.2 160.9,263.5 161.1,264.2 161.3,262.8 161.4,258.8 161.6,262.4 161.8,263.1 162.0,264.3 162.1,265.0 162.3,262.6 162.5,262.6 162.6,261.9 162.8,265.2 163.0,256.7 163.2,262.5 163.3,262.8 163.5,264.6 163.7,264.2 163.8,265.5 164.0,262.0 164.2,265.5 164.4,263.6 164.5,264.3 164.7,262.4 164.9,264.3 165.0,264.6 165.2,263.7 165.4,263.7 165.6,263.4 165.7,265.3 165.9,264.1 166.1,265.0 166.3,264.1 166.4,262.1 166.6,261.4 166.8,263.0 166.9,260.0 167.1,260.7 167.3,263.6 167.5,264.7 167.6,264.3 167.8,263.6 168.0,261.9 168.1,262.4 168.3,264.3 168.5,265.0 168.7,264.3 168.8,261.0 169.0,261.3 169.2,261.8 169.3,259.1 169.5,263.2 169.7,264.9 169.9,261.8 170.0,259.7 170.2,258.9 170.4,260.9 170.5,262.8 170.7,261.3 170.9,262.1 171.1,258.8 171.2,262.7 171.4,263.8 171.6,263.0 171.8,261.3 171.9,260.4 172.1,260.7 172.3,260.8 172.4,261.7 172.6,264.1 172.8,265.6 173.0,265.2 173.1,264.2 173.3,266.0 173.5,263.8 173.6,266.4 173.8,261.0 174.0,265.0 174.2,260.7 174.3,263.8 174.5,262.1 174.7,262.7 174.8,260.6 175.0,265.4 175.2,264.6 175.4,263.9 175.5,264.3 175.7,264.1 175.9,265.0 176.0,266.9 176.2,264.5 176.4,263.0 176.6,263.2 176.7,265.3 176.9,261.2 177.1,262.4 177.3,264.5 177.4,266.6 177.6,261.9 177.8,259.1 177.9,263.7 178.1,262.2 178.3,263.7 178.5,263.1 178.6,266.8 178.8,264.8 179.0,261.3 179.1,265.0 179.3,266.1 179.5,264.3 179.7,246.1 179.8,225.3 180.0,240.1 180.2,252.6 180.3,267.3 180.5,270.5 180.7,273.9 180.9,278.5 181.1,281.7 181.2,282.5 181.4,277.9 181.5,277.3 181.7,274.7 181.9,270.2 182.1,269.8 182.2,267.4 182.4,268.4 182.6,263.5 182.7,263.9 182.9,262.2 183.1,264.2 183.3,262.3 183.4,261.8 183.6,259.5 183.8,258.3 184.0,256.1 184.1,258.5 184.3,258.1 184.5,258.5 184.6,258.2 184.8,257.7 185.0,258.1 185.2,260.2 185.3,262.0 185.5,259.8 185.7,257.9 185.8,261.4 186.0,258.9 186.2,257.5 186.4,258.8 186.5,260.9 186.7,257.0 186.9,261.6 187.0,259.7 187.2,255.4 187.4,258.6 187.6,258.7 187.7,259.3 187.9,259.2 188.1,258.9 188.2,255.5 188.4,257.5 188.6,260.3 188.8,258.4 188.9,258.5 189.1,259.0 189.3,262.4 189.4,262.2 189.6,257.8 189.8,261.2 190.0,258.1 190.1,258.0 190.3,257.7 190.5,260.6 190.7,256.2 190.8,257.4 191.0,260.7 191.2,257.9 191.3,261.6 191.5,257.7 191.7,260.6 191.9,259.6 192.0,259.7 192.2,264.2 192.4,255.7 192.5,260.6 192.7,261.8 192.9,260.0 193.1,261.3 193.2,259.5 193.4,261.6 193.6,259.9 193.7,258.1 193.9,257.2 194.1,258.6 194.3,260.0 194.4,260.0 194.6,259.8 194.8,257.3 194.9,258.7 195.1,260.3 195.3,261.5 195.5,260.2 195.6,260.0 195.8,262.7 196.0,261.9 196.2,260.9 196.3,261.6 196.5,261.4 196.7,262.3 196.8,260.2 197.0,258.5 197.2,261.9 197.4,259.3 197.5,262.4 197.7,261.2 197.9,259.3 198.0,260.7 198.2,259.2 198.4,259.4 198.6,261.1 198.7,258.3 198.9,258.8 199.1,259.8 199.2,261.6 199.4,259.3 199.6,262.1 199.8,261.3 199.9,264.2 200.1,259.6 200.3,263.2 200.4,260.5 200.6,265.9 200.8,261.6 201.0,260.0 201.1,261.3 201.3,259.9 201.5,260.5 201.6,263.4 201.8,262.3 202.0,258.8 202.2,260.8 202.3,253.8 202.5,260.8 202.7,260.6 202.9,259.3 203.0,257.6 203.2,263.2 203.4,263.7 203.5,262.1 203.7,261.9 203.9,260.8 204.1,257.7 204.2,261.2 204.4,259.9 204.6,257.3 204.7,259.3 204.9,259.0 205.1,259.4 205.3,258.8 205.4,258.8 205.6,258.9 205.8,259.4 205.9,261.4 206.1,257.0 206.3,257.5 206.5,259.2 206.6,260.9 206.8,257.8 207.0,260.6 207.1,260.4 207.3,260.5 207.5,256.9 207.7,258.9 207.8,260.3 208.0,260.2 208.2,258.8 208.4,260.2 208.5,257.5 208.7,257.8 208.9,261.5 209.0,257.4 209.2,257.9 209.4,260.7 209.6,257.9 209.7,259.4 209.9,258.5 210.1,262.2 210.2,259.6 210.4,258.4 210.6,258.5 210.8,261.2 210.9,258.2 211.1,259.5 211.3,260.1 211.4,260.7 211.6,261.5 211.8,261.2 212.0,260.8 212.1,257.6 212.3,261.6 212.5,260.3 212.6,260.8 212.8,260.2 213.0,260.5 213.2,256.7 213.3,259.9 213.5,256.4 213.7,258.8 213.9,290.3 214.1,343.8 214.2,329.8 214.4,301.0 214.5,275.9 214.7,265.0 214.9,253.9 215.1,247.6 215.2,234.9 215.4,237.5 215.6,233.8 215.7,243.4 215.9,247.4 216.1,247.9 216.3,253.9 216.4,256.2 216.6,253.0 216.8,256.4 216.9,257.6 217.1,257.8 217.3,259.0 217.5,258.9 217.6,263.4 217.8,264.6 218.0,263.8 218.1,265.2 218.3,264.4 218.5,263.8 218.7,265.5 218.8,263.9 219.0,264.5 219.2,265.1 219.3,266.5 219.5,262.3 219.7,264.0 219.9,261.9 220.0,262.9 220.2,265.4 220.4,263.5 220.6,263.1 220.7,261.4 220.9,265.9 221.1,260.6 221.2,262.0 221.4,263.6 221.6,264.3 221.8,262.3 221.9,265.1 222.1,264.3 222.3,265.0 222.4,263.3 222.6,264.2 222.8,260.7 223.0,260.6 223.1,260.6 223.3,260.6 223.5,258.9 223.6,258.7 223.8,261.0 224.0,258.6 224.2,258.0 224.3,259.9 224.5,257.9 224.7,259.4 224.8,260.7 225.0,261.1 225.2,260.6 225.4,261.0 225.5,259.3 225.7,260.7 225.9,258.5 226.1,257.6 226.2,256.8 226.4,257.3 226.6,258.1 226.7,257.2 226.9,257.6 227.1,259.0 227.3,256.6 227.4,261.3 227.6,261.4 227.8,260.6 227.9,260.2 228.1,256.8 228.3,258.4 228.5,256.6 228.6,257.8 228.8,260.5 229.0,256.9 229.1,257.0 229.3,260.4 229.5,257.4 229.7,258.7 229.8,260.8 230.0,260.3 230.2,258.4 230.3,261.2 230.5,258.9 230.7,258.7 230.9,259.0 231.0,260.2 231.2,256.4 231.4,259.0 231.5,257.7 231.7,257.9 231.9,259.7 232.1,257.9 232.2,258.8 232.4,256.6 232.6,260.1 232.8,259.7 232.9,260.4 233.1,260.1 233.3,257.3 233.4,259.3 233.6,257.1 233.8,262.3 234.0,261.5 234.1,260.2 234.3,258.3 234.5,257.8 234.6,259.5 234.8,259.9 235.0,257.8 235.2,260.7 235.3,257.9 235.5,260.8 235.7,258.6 235.8,260.7 236.0,262.3 236.2,262.2 236.4,262.8 236.5,262.0 236.7,262.9 236.9,260.3 237.0,258.9 237.2,259.6 237.4,256.7 237.6,256.6 237.7,257.7 237.9,257.3 238.1,260.2 238.3,258.9 238.4,262.6 238.6,262.9 238.8,261.6 238.9,262.2 239.1,259.0 239.3,263.3 239.5,260.7 239.6,259.7 239.8,259.2 240.0,260.7 240.1,264.0 240.3,262.9 240.5,260.7 240.7,260.5 240.8,259.0 241.0,261.5 241.2,291.7 241.3,319.3 241.5,302.3 241.7,283.2 241.9,265.0 242.0,266.8 242.2,260.6 242.4,264.0 242.5,261.9 242.7,262.5 242.9,262.3 243.1,263.3 243.2,260.6 243.4,263.4 243.6,267.1 243.7,264.5 243.9,267.7 244.1,265.6 244.3,270.9 244.4,269.4 244.6,268.7 244.8,270.5"/><polyline fill="none" stroke="#0000ff" stroke-width="2.1" stroke-linejoin="round" points="330.5,307.3 330.7,305.9 330.8,307.7 331.0,306.2 331.2,306.9 331.4,303.5 331.5,299.9 331.7,297.9 331.9,298.7 332.0,301.4 332.2,299.8 332.4,285.8 332.6,270.0 332.7,275.0 332.9,285.0 333.1,292.5 333.2,295.6 333.4,297.9 333.6,300.1 333.8,299.0 333.9,296.1 334.1,296.4 334.3,293.8 334.5,292.0 334.6,291.1 334.8,290.2 334.9,290.4 335.1,291.2 335.3,291.5 335.5,289.5 335.7,291.2 335.8,292.1 336.0,292.2 336.2,292.0 336.3,293.6 336.5,293.7 336.7,296.0 336.8,295.2 337.0,296.0 337.2,297.2 337.4,295.5 337.5,295.7 337.7,296.6 337.9,297.0 338.1,295.4 338.2,296.1 338.4,296.2 338.6,295.4 338.8,296.4 338.9,295.1 339.1,295.2 339.3,294.8 339.4,295.7 339.6,294.2 339.8,295.2 339.9,295.9 340.1,294.1 340.3,294.3 340.5,293.7 340.6,294.4 340.8,294.5 341.0,295.4 341.1,294.3 341.3,293.8 341.5,293.5 341.7,294.7 341.8,294.2 342.0,293.4 342.2,293.0 342.4,292.1 342.6,293.3 342.7,293.2 342.9,292.6 343.0,293.9 343.2,293.7 343.4,294.7 343.6,293.8 343.7,293.1 343.9,293.2 344.1,293.9 344.2,294.5 344.4,294.7 344.6,294.5 344.8,295.4 344.9,294.7 345.1,295.5 345.3,295.0 345.4,296.1 345.6,295.0 345.8,295.4 346.0,293.8 346.1,295.0 346.3,293.8 346.5,295.0 346.6,293.6 346.8,293.0 347.0,293.3 347.2,293.0 347.3,292.9 347.5,293.5 347.7,293.3 347.8,305.7 348.0,315.8 348.2,302.7 348.4,291.2 348.5,291.2 348.7,289.7 348.9,289.1 349.0,288.8 349.2,289.8 349.4,290.4 349.6,290.0 349.7,289.7 349.9,287.7 350.1,288.3 350.3,289.6 350.4,288.8 350.6,288.7 350.8,288.0 350.9,288.7 351.1,288.2 351.3,287.3 351.5,289.0 351.6,289.3 351.8,289.2 352.0,289.2 352.1,289.6 352.3,289.8 352.5,289.8 352.7,289.7 352.8,290.4 353.0,290.0 353.2,288.8 353.3,289.7 353.5,289.8 353.7,289.6 353.9,290.3 354.0,289.7 354.2,290.2 354.4,290.2 354.5,291.2 354.7,290.7 354.9,291.2 355.1,291.3 355.2,290.3 355.4,290.5 355.6,291.0 355.7,290.2 355.9,290.5 356.1,291.6 356.3,289.3 356.4,290.9 356.6,291.1 356.8,290.0 356.9,291.4 357.1,290.4 357.3,291.0 357.5,290.9 357.6,291.8 357.8,290.2 358.0,291.6 358.2,290.3 358.3,290.7 358.5,290.6 358.7,291.4 358.8,291.4 359.0,292.0 359.2,290.9 359.4,292.2 359.5,290.6 359.7,291.4 359.9,292.3 360.0,292.0 360.3,291.9 360.4,292.5 360.6,292.7 360.7,293.7 360.9,292.2 361.1,291.3 361.2,292.5 361.4,291.2 361.6,292.2 361.8,292.7 361.9,290.8 362.1,293.0 362.3,292.2 362.4,290.6 362.6,292.8 362.8,291.7 363.0,292.7 363.1,292.5 363.3,292.4 363.5,293.0 363.6,292.4 363.8,293.6 364.0,293.0 364.2,292.7 364.3,292.8 364.5,293.4 364.7,293.0 364.9,292.4 365.0,293.0 365.2,292.1 365.4,292.1 365.5,291.4 365.7,291.8 365.9,292.2 366.1,292.4 366.2,292.1 366.4,291.7 366.6,293.3 366.7,291.6 366.9,292.8 367.1,291.2 367.3,291.9 367.4,291.5 367.6,292.9 367.8,292.2 367.9,291.7 368.1,290.8 368.3,292.0 368.5,290.3 368.6,292.8 368.8,291.1 369.0,292.0 369.1,291.2 369.3,292.3 369.5,292.9 369.7,293.0 369.8,292.6 370.0,292.5 370.2,292.0 370.3,292.4 370.5,290.6 370.7,291.2 370.9,291.0 371.0,291.5 371.2,290.8 371.4,290.6 371.5,292.7 371.7,292.5 371.9,292.7 372.1,292.3 372.2,291.5 372.4,292.3 372.6,292.3 372.8,292.4 372.9,292.5 373.1,291.0 373.3,291.3 373.4,291.9 373.6,292.6 373.8,291.6 374.0,291.3 374.1,292.8 374.3,292.0 374.5,292.6 374.6,293.0 374.8,292.1 375.0,292.3 375.2,291.8 375.3,290.6 375.5,292.2 375.7,291.6 375.8,290.0 376.0,291.8 376.2,291.9 376.4,289.6 376.5,290.6 376.7,292.0 376.9,292.3 377.0,291.9 377.2,291.9 377.4,291.3 377.6,291.8 377.7,293.1 377.9,290.7 378.1,292.2 378.2,292.9 378.4,293.0 378.6,291.9 378.8,293.2 378.9,291.3 379.1,291.6 379.3,293.4 379.4,291.2 379.6,291.7 379.8,291.4 380.0,288.4 380.1,292.0 380.3,293.5 380.5,293.6 380.7,293.2 380.8,291.1 381.0,292.3 381.2,291.1 381.3,292.0 381.5,290.5 381.7,293.6 381.9,292.7 382.0,292.3 382.3,274.5 382.4,279.1 382.5,287.9 382.7,296.7 382.9,296.5 383.1,295.5 383.3,296.0 383.4,294.9 383.6,296.8 383.7,296.0 383.9,295.9 384.1,295.2 384.3,295.7 384.4,295.3 384.6,294.6 384.8,294.6 384.9,294.9 385.1,296.2 385.3,295.8 385.5,295.2 385.6,295.0 385.8,293.2 386.0,295.5 386.1,294.1 386.3,293.9 386.5,292.5 386.7,293.9 386.8,293.9 387.1,292.9 387.2,293.4 387.3,291.7 387.5,291.8 387.7,293.0 387.9,292.9 388.0,291.0 388.2,292.1 388.4,293.8 388.6,291.6 388.7,292.0 388.9,293.2 389.1,292.0 389.2,292.8 389.4,292.6 389.6,290.7 389.8,291.4 389.9,291.3 390.1,291.4 390.3,292.2 390.4,291.0 390.6,291.6 390.8,290.4 391.0,290.9 391.1,291.4 391.3,291.7 391.5,291.4 391.6,291.2 391.8,291.1 392.0,291.3 392.2,291.6 392.3,291.0 392.5,292.1 392.7,290.8 392.8,290.2 393.0,290.5 393.2,290.9 393.4,291.8 393.5,291.2 393.7,291.4 393.9,290.4 394.0,292.4 394.2,290.3 394.4,291.8 394.6,291.4 394.7,291.2 394.9,291.0 395.1,291.5 395.2,289.9 395.4,290.8 395.6,289.9 395.8,290.7 396.0,290.9 396.1,290.0 396.3,289.3 396.5,291.6 396.6,291.1 396.8,291.4 397.0,290.7 397.1,292.1 397.3,292.3 397.5,291.1 397.7,290.9 397.8,291.2 398.0,290.4 398.2,291.0 398.3,291.6 398.5,290.8 398.7,291.7 398.9,291.8 399.0,292.6 399.2,292.0 399.4,291.3 399.5,291.9 399.7,292.8 399.9,291.5 400.1,292.8 400.2,292.8 400.4,292.4 400.6,292.0 400.7,292.5 400.9,291.2 401.1,293.1 401.3,292.2 401.4,293.3 401.6,293.2 401.8,293.2 401.9,291.5 402.1,292.2 402.3,292.0 402.5,293.0 402.6,292.1 402.8,293.0 403.0,292.8 403.2,292.2 403.3,293.0 403.5,292.8 403.7,293.0 403.8,292.5 404.0,291.9 404.2,292.5 404.4,291.9 404.5,291.8 404.7,292.4 404.9,291.5 405.0,292.0 405.2,291.2 405.4,291.3 405.6,292.8 405.7,293.2 405.9,292.6 406.1,292.4 406.2,292.5 406.4,291.9 406.6,292.9 406.8,291.9 406.9,291.7 407.1,291.9 407.3,291.2 407.4,291.3 407.6,292.8 407.8,292.9 408.0,291.6 408.1,292.7 408.3,291.4 408.5,292.6 408.6,292.6 408.8,291.9 409.0,290.6 409.2,295.4 409.3,292.7 409.5,290.9 409.7,292.2 409.8,292.7 410.0,290.8 410.2,292.9 410.4,292.8 410.5,291.7 410.7,291.9 410.9,291.7 411.1,292.4 411.2,291.6 411.4,293.1 411.6,292.1 411.7,291.9 411.9,291.2 412.1,291.1 412.3,291.2 412.4,293.5 412.6,292.2 412.8,292.2 412.9,291.2 413.1,292.2 413.3,293.4 413.5,293.4 413.6,292.8 413.8,292.0 414.0,293.1 414.1,292.2 414.3,292.8 414.5,292.5 414.7,292.4 414.8,290.2 415.0,292.6 415.2,292.0 415.3,291.3 415.5,291.2 415.7,291.2 415.9,292.7 416.0,292.0 416.2,291.6 416.4,292.2 416.5,300.2 416.7,307.0 417.0,315.5 417.1,311.7 417.2,304.4 417.4,292.4 417.6,291.9 417.7,293.0 417.9,293.6 418.1,292.9 418.3,293.1 418.4,292.2 418.6,293.7 418.8,292.7 419.0,292.7 419.1,292.4 419.3,292.4 419.5,293.5 419.6,293.4 419.8,293.5 420.0,293.0 420.2,293.5 420.3,293.4 420.5,293.6 420.7,293.5 420.8,293.1 421.0,293.4 421.2,293.2 421.4,292.8 421.5,293.5 421.7,292.7 421.9,292.4 422.0,294.2 422.2,292.9 422.4,291.4 422.6,291.3 422.7,291.7 422.9,293.3 423.1,291.7 423.2,291.9 423.4,291.9 423.6,291.7 423.8,292.4 423.9,291.7 424.1,291.8 424.3,291.9 424.4,292.7 424.6,293.0 424.8,293.0 425.0,291.6 425.1,291.1 425.3,292.5 425.5,289.1 425.6,292.3 425.8,291.3 426.0,292.1 426.2,292.8 426.3,292.0 426.5,293.0 426.7,292.7 426.9,293.9 427.0,292.4 427.2,290.5 427.4,291.4 427.5,292.5 427.7,291.1 427.9,291.3 428.1,291.0 428.2,291.7 428.4,291.3 428.6,290.3 428.7,291.1 428.9,291.0 429.1,290.2 429.3,291.6 429.4,290.1 429.6,291.5 429.8,290.3 429.9,291.7 430.1,291.6 430.3,291.7 430.5,290.7 430.6,290.6 430.8,290.9 431.0,291.9 431.1,290.4 431.3,290.6 431.5,290.8 431.7,292.4 431.8,290.6 432.0,291.9 432.2,291.7 432.3,292.5 432.5,291.2 432.7,292.7 432.9,291.6 433.0,292.6 433.2,291.6 433.4,292.3 433.6,292.2 433.7,292.6 433.9,291.2 434.1,290.3 434.2,293.0 434.4,293.2 434.6,292.0 434.8,292.7 434.9,291.4 435.1,292.2 435.3,291.6 435.4,290.5 435.6,291.2 435.8,290.7 436.0,290.7 436.1,291.4 436.3,292.3 436.5,293.0 436.6,292.7 436.8,292.1 437.0,290.8 437.2,292.0 437.3,293.1 437.5,292.9 437.7,291.7 437.8,293.0 438.0,292.5 438.2,292.6 438.4,291.7 438.5,290.9 438.7,292.1 438.9,290.5 439.0,290.3 439.2,291.3 439.4,290.7 439.6,289.8 439.7,291.2 439.9,291.0 440.1,292.3 440.2,291.0 440.4,291.7 440.6,289.9 440.8,290.9 440.9,291.9 441.1,290.9 441.3,291.2 441.5,291.6 441.6,290.7 441.8,290.2 442.0,290.2 442.1,289.7 442.3,290.6 442.5,291.5 442.7,291.5 442.8,290.4 443.0,289.7 443.2,290.7 443.3,289.6 443.5,289.7 443.7,291.0 443.9,289.7 444.0,289.1 444.2,289.4 444.4,291.1 444.5,289.5 444.7,289.7 444.9,290.6 445.1,290.8 445.2,289.3 445.4,291.0 445.6,291.1 445.7,289.6 445.9,291.8 446.1,290.8 446.3,291.3 446.4,290.8 446.6,290.7 446.8,290.2 446.9,291.0 447.1,289.8 447.3,289.5 447.5,289.4 447.6,290.8 447.8,290.5 448.0,290.8 448.1,291.4 448.3,290.7 448.5,290.3 448.7,290.3 448.8,291.7 449.0,291.1 449.2,290.1 449.4,290.8 449.5,290.4 449.7,291.6 449.9,290.5 450.0,291.1 450.2,291.6 450.4,290.7 450.6,289.7 450.7,289.5 450.9,290.9 451.1,283.1 451.2,274.1 451.4,281.2 451.6,288.2 451.8,293.9 451.9,292.4 452.1,293.4 452.3,294.1 452.4,292.7 452.6,294.0 452.8,292.8 453.0,293.9 453.1,293.9 453.2,293.8 453.5,294.6 453.6,294.3 453.8,292.5 454.0,292.5 454.2,293.4 454.3,292.3 454.5,292.3 454.7,292.5 454.8,291.5 455.0,291.4 455.2,293.2 455.4,292.8 455.5,291.4 455.7,291.1 455.9,292.9 456.0,291.0 456.2,291.3 456.4,291.9 456.6,291.7 456.7,292.0 456.9,290.7 457.1,291.8 457.3,290.3 457.4,289.6 457.6,289.9 457.8,291.9 457.9,289.9 458.1,289.6 458.3,290.9 458.5,290.4 458.6,289.3 458.8,291.1 459.0,288.7 459.1,288.6 459.3,288.7 459.5,289.0 459.7,290.7 459.8,289.3 460.0,288.8 460.2,291.0 460.3,288.9 460.5,290.2 460.7,289.7 460.9,289.8 461.0,289.5 461.2,290.5 461.4,290.2 461.5,289.4 461.7,291.2 461.9,290.4 462.1,288.9 462.2,288.8 462.4,290.6 462.6,289.0 462.7,290.6 462.9,288.6 463.1,288.7 463.3,290.2 463.4,290.9 463.6,289.6 463.8,288.5 463.9,289.3 464.1,289.8 464.3,288.7 464.5,289.4 464.6,289.6 464.8,290.5 465.0,288.5 465.2,288.8 465.3,289.4 465.5,290.0 465.7,288.4 465.8,290.5 466.0,290.4 466.2,289.7 466.4,289.5 466.5,289.6 466.7,291.1 466.9,289.2 467.0,289.8 467.2,291.4 467.4,290.3 467.6,288.9 467.7,289.3 467.9,290.8 468.1,290.3 468.2,289.4 468.4,289.0 468.6,288.8 468.8,289.9 468.9,288.1 469.1,287.8 469.3,289.2 469.4,290.2 469.6,288.8 469.8,289.4 470.0,288.7 470.1,290.8 470.3,289.9 470.5,290.0 470.6,290.7 470.8,289.5 471.0,290.1 471.2,290.9 471.3,290.8 471.5,289.5 471.7,289.6 471.9,290.2 472.0,290.0 472.2,290.6 472.4,289.5 472.5,290.0 472.7,290.4 472.9,289.3 473.1,289.0 473.2,288.9 473.4,289.9 473.6,289.3 473.7,289.6 473.9,289.1 474.1,290.5 474.3,291.5 474.4,291.3 474.6,291.0 474.8,291.3 474.9,292.0 475.1,289.8 475.3,291.1 475.5,291.3 475.6,289.7 475.8,290.1 476.0,289.8 476.1,291.1 476.3,290.0 476.5,289.3 476.7,290.4 476.8,291.7 477.0,290.7 477.2,291.6 477.3,291.8 477.5,290.8 477.7,291.7 477.9,291.2 478.0,291.6 478.2,290.9 478.4,291.3 478.5,290.5 478.7,290.6 478.9,290.1 479.1,289.9 479.2,287.9 479.4,289.0 479.6,290.3 479.8,290.6 479.9,291.4 480.1,289.7 480.3,291.3 480.4,290.9 480.6,289.8 480.8,289.8 481.0,291.2 481.1,291.0 481.3,290.8 481.5,291.0 481.6,291.4 481.8,290.7 482.0,290.9 482.2,290.2 482.3,291.8 482.5,291.6 482.7,290.2 482.8,288.4 483.0,289.6 483.2,290.2 483.4,290.2 483.5,291.1 483.7,290.4 483.9,290.7 484.0,291.2 484.2,290.1 484.4,291.8 484.6,290.7 484.7,291.4 484.9,291.9 485.1,291.5 485.2,301.5 485.4,312.8 485.6,305.2 485.8,300.9 485.9,293.6 486.1,287.2 486.3,286.3 486.4,284.7 486.6,284.5 486.8,285.4 487.0,284.1 487.1,283.2 487.3,282.0 487.4,282.5 487.7,282.8 487.8,283.1 488.0,282.9 488.2,282.2 488.3,284.6 488.5,284.3 488.7,282.7 488.9,283.3 489.0,283.3 489.2,283.5 489.4,284.1 489.5,283.8 489.7,282.7 489.9,283.4 490.1,284.1 490.2,283.2 490.4,283.3 490.6,284.1 490.7,283.8 490.9,284.7 491.1,285.5 491.3,284.1 491.4,285.7 491.6,284.3 491.8,285.2 491.9,284.8 492.1,284.1 492.3,285.6 492.5,284.7 492.6,285.1 492.8,285.3 493.0,283.6 493.1,284.7 493.3,285.4 493.5,285.0 493.7,284.2 493.8,284.6 494.0,284.8 494.2,285.8 494.3,286.4 494.5,285.1 494.7,285.5 494.9,285.9 495.0,286.5 495.2,286.1 495.4,285.5 495.6,286.5 495.7,286.1 495.9,287.1 496.1,285.5 496.2,286.1 496.4,286.1 496.6,284.7 496.8,286.3 496.9,286.3 497.1,284.7 497.3,284.9 497.4,285.0 497.6,286.3 497.8,285.2 498.0,285.8 498.1,285.8 498.3,283.9 498.5,284.4 498.6,285.2 498.8,286.6 499.0,285.5 499.2,284.3 499.3,285.5 499.5,285.5 499.7,285.1 499.8,285.6 500.0,284.8 500.2,284.5 500.4,285.2 500.5,284.9 500.7,284.8 500.9,285.0 501.0,285.2 501.2,285.4 501.4,284.0 501.6,283.5 501.7,285.5 501.9,283.8 502.1,283.9 502.2,284.6 502.4,283.7 502.6,284.8 502.8,285.1 502.9,285.3 503.1,285.2 503.3,284.9 503.5,285.5 503.6,284.2 503.8,285.0 504.0,284.7 504.1,283.9 504.3,285.3 504.5,285.2 504.7,284.5 504.8,286.0 505.0,284.2 505.2,284.2 505.3,283.0 505.5,284.0 505.7,284.8 505.9,282.8 506.0,285.3 506.2,284.8 506.4,283.7 506.5,284.0 506.7,284.4 506.9,283.4 507.1,284.5 507.2,284.8 507.4,283.3 507.6,285.4 507.7,283.8 507.9,284.5 508.1,285.1 508.3,283.3 508.4,284.0 508.6,282.5 508.8,283.4 508.9,283.4 509.1,284.0 509.3,284.3 509.5,282.7 509.6,284.2 509.8,282.9 510.0,283.5 510.2,282.3 510.3,283.9 510.5,283.8 510.7,284.2 510.8,283.4 511.0,283.4 511.2,283.9 511.4,284.6 511.5,283.6 511.7,283.9 511.9,285.1 512.0,285.9 512.2,285.4 512.4,284.6 512.6,293.3 512.8,303.1 512.9,298.5 513.1,291.7 513.2,283.9 513.4,284.8 513.6,284.8 513.8,284.7 513.9,284.4 514.1,283.8 514.3,283.3 514.4,285.3 514.6,283.2 514.8,282.7 515.0,282.3 515.1,281.8 515.3,281.8 515.5,283.6 515.6,282.1 515.8,283.3 516.0,281.1 516.2,280.8 516.3,282.1 516.5,281.1 516.7,281.2 516.8,280.4 517.0,282.1 517.2,282.4 517.4,280.9 517.5,280.7 517.7,282.2 517.9,281.2 518.1,281.3 518.2,281.5 518.4,280.7 518.6,281.1"/><polyline fill="none" stroke="#ff0000" stroke-width="2.1" stroke-linejoin="round" points="330.5,307.9 330.7,305.9 330.8,302.2 331.0,293.7 331.2,281.3 331.4,268.8 331.5,270.6 331.7,271.8 331.9,271.8 332.0,271.6 332.2,272.4 332.4,273.6 332.6,272.7 332.7,272.2 332.9,272.7 333.1,272.8 333.2,271.5 333.4,273.0 333.6,272.8 333.8,277.2 333.9,280.8 334.1,284.0 334.3,287.4 334.5,291.6 334.6,296.6 334.8,298.8 335.0,303.4 335.1,302.3 335.3,303.1 335.5,302.1 335.7,301.0 335.8,298.2 336.0,298.0 336.2,296.4 336.3,295.4 336.5,296.4 336.7,294.6 336.9,292.9 337.0,292.3 337.2,292.9 337.4,291.3 337.5,292.4 337.7,291.3 337.9,292.1 338.1,290.6 338.2,291.4 338.4,291.3 338.6,291.5 338.8,291.1 338.9,292.5 339.1,290.2 339.3,291.1 339.4,289.5 339.6,289.3 339.8,290.5 339.9,288.4 340.1,292.0 340.3,289.1 340.5,289.7 340.6,290.3 340.8,291.3 341.0,290.7 341.1,289.1 341.4,289.2 341.5,291.4 341.7,289.3 341.8,292.9 342.0,292.0 342.2,292.1 342.4,292.2 342.6,292.7 342.7,291.5 342.9,292.0 343.0,291.5 343.2,291.3 343.4,291.7 343.6,290.0 343.7,292.3 343.9,291.1 344.1,291.6 344.2,292.4 344.4,291.3 344.6,289.6 344.8,289.9 344.9,292.1 345.1,290.4 345.3,291.5 345.4,290.0 345.6,290.8 345.8,291.8 346.0,288.6 346.1,290.7 346.3,291.7 346.5,291.8 346.6,291.4 346.8,291.5 347.0,290.9 347.2,292.9 347.3,292.2 347.5,291.4 347.7,312.7 347.9,337.4 348.0,319.2 348.2,297.5 348.4,290.5 348.5,284.7 348.8,277.9 348.9,280.7 349.0,280.7 349.2,281.9 349.4,285.3 349.6,287.0 349.7,287.6 349.9,288.8 350.1,288.7 350.3,290.6 350.4,291.5 350.6,293.6 350.8,292.7 350.9,295.5 351.1,293.4 351.3,290.2 351.5,286.9 351.6,284.3 351.8,285.3 352.0,285.1 352.1,286.4 352.3,287.7 352.5,287.9 352.7,289.5 352.8,289.3 353.0,289.8 353.2,288.7 353.3,291.5 353.5,290.0 353.7,290.0 353.9,289.9 354.0,291.1 354.2,290.9 354.4,290.6 354.5,291.5 354.7,291.5 354.9,288.6 355.1,290.1 355.2,291.5 355.4,290.6 355.6,290.9 355.7,289.8 355.9,291.5 356.1,289.4 356.3,289.0 356.4,291.1 356.6,290.2 356.8,290.7 356.9,289.3 357.1,291.4 357.3,289.8 357.5,289.6 357.6,289.8 357.8,289.7 358.0,289.6 358.2,291.7 358.3,291.7 358.5,291.2 358.7,290.3 358.8,290.1 359.0,290.4 359.2,290.3 359.4,289.7 359.5,291.2 359.7,291.7 359.9,287.7 360.0,291.2 360.2,290.1 360.4,289.0 360.6,291.8 360.7,290.5 360.9,290.0 361.1,290.7 361.2,289.8 361.4,290.9 361.6,290.2 361.7,291.4 361.9,291.4 362.1,292.3 362.3,289.3 362.4,289.2 362.6,292.2 362.8,289.8 363.0,289.4 363.1,289.7 363.3,291.5 363.5,290.2 363.6,291.5 363.8,292.1 364.0,290.1 364.2,292.7 364.3,290.6 364.5,290.8 364.7,291.3 364.9,289.7 365.0,291.4 365.2,290.9 365.4,290.4 365.5,291.3 365.7,290.3 365.9,292.4 366.1,289.5 366.2,289.9 366.4,291.3 366.6,288.6 366.7,290.4 366.9,289.4 367.1,288.9 367.3,290.7 367.4,291.8 367.6,288.8 367.8,289.1 367.9,291.4 368.1,291.2 368.3,290.5 368.5,289.4 368.6,292.1 368.8,289.0 369.0,288.2 369.1,291.2 369.3,289.9 369.5,289.7 369.7,289.8 369.8,290.5 370.0,290.1 370.2,289.2 370.3,290.2 370.5,289.6 370.7,290.9 370.9,289.7 371.0,289.8 371.2,290.4 371.4,289.8 371.5,289.9 371.7,289.2 371.9,288.5 372.1,290.1 372.2,289.5 372.4,290.1 372.6,288.8 372.8,289.3 372.9,291.0 373.1,290.0 373.3,291.1 373.4,290.0 373.6,290.7 373.8,288.9 374.0,290.2 374.1,290.6 374.3,289.5 374.5,290.7 374.6,288.8 374.8,291.4 375.0,290.5 375.2,290.6 375.3,290.1 375.5,288.3 375.7,290.2 375.8,289.9 376.0,290.6 376.2,287.6 376.4,289.0 376.5,289.1 376.7,289.9 376.9,289.2 377.0,288.9 377.2,287.4 377.4,287.3 377.6,289.0 377.7,287.8 377.9,290.4 378.1,288.6 378.2,290.2 378.4,288.9 378.6,289.5 378.8,287.4 378.9,289.0 379.1,287.1 379.3,289.9 379.4,289.3 379.6,289.6 379.8,288.9 380.0,289.9 380.1,289.1 380.3,290.5 380.5,289.6 380.7,288.5 380.8,290.7 381.0,289.8 381.2,290.1 381.3,290.8 381.5,289.9 381.7,288.8 381.9,289.5 382.0,289.7 382.2,290.5 382.4,289.4 382.5,280.9 382.7,273.3 382.9,277.9 383.1,283.2 383.2,287.3 383.4,289.9 383.6,293.2 383.7,294.2 384.0,297.9 384.1,296.9 384.3,296.5 384.4,294.8 384.6,293.9 384.8,294.8 384.9,295.5 385.1,293.2 385.3,292.5 385.5,291.7 385.6,291.4 385.8,291.8 386.0,292.7 386.1,292.6 386.3,292.4 386.5,291.4 386.7,292.5 386.8,292.7 387.0,292.2 387.2,293.1 387.3,294.6 387.5,292.8 387.7,294.8 387.9,293.7 388.0,295.4 388.2,295.4 388.4,288.2 388.6,284.1 388.7,283.4 388.9,285.2 389.1,285.0 389.2,287.8 389.4,287.2 389.6,287.8 389.8,288.6 389.9,287.6 390.1,288.8 390.3,288.9 390.4,288.1 390.6,287.6 390.8,289.2 391.0,289.6 391.1,287.0 391.3,289.0 391.5,289.1 391.6,289.6 391.8,287.9 392.0,289.3 392.2,289.2 392.3,287.8 392.5,289.9 392.7,287.6 392.8,287.9 393.0,288.3 393.2,288.5 393.4,289.0 393.6,288.5 393.7,288.2 393.9,290.7 394.0,290.0 394.2,287.7 394.4,290.2 394.6,290.1 394.7,287.5 394.9,287.8 395.1,288.0 395.2,288.6 395.4,289.8 395.6,287.7 395.8,288.5 395.9,288.6 396.1,291.0 396.3,290.5 396.5,291.3 396.6,288.7 396.8,290.4 397.0,290.5 397.1,289.3 397.3,289.8 397.5,288.7 397.7,288.0 397.8,288.1 398.0,289.7 398.2,288.1 398.3,289.8 398.5,289.1 398.7,290.2 398.9,287.8 399.0,289.9 399.2,285.1 399.4,293.6 399.5,289.7 399.7,291.1 399.9,289.7 400.1,288.6 400.2,289.2 400.4,290.4 400.6,290.9 400.7,290.2 400.9,289.2 401.1,290.1 401.3,290.5 401.4,289.6 401.6,288.3 401.8,289.5 401.9,289.4 402.1,290.7 402.3,290.3 402.5,290.3 402.6,290.8 402.8,289.9 403.0,290.9 403.2,288.7 403.3,289.7 403.5,291.0 403.7,291.1 403.8,289.0 404.0,290.8 404.2,288.7 404.4,292.1 404.5,289.9 404.7,290.0 404.9,289.4 405.0,291.3 405.2,289.8 405.4,289.2 405.6,289.5 405.7,289.0 405.9,290.2 406.1,291.7 406.2,289.5 406.4,291.2 406.6,291.0 406.8,289.7 406.9,290.7 407.1,287.9 407.3,289.3 407.4,291.7 407.6,289.5 407.8,288.1 408.0,291.8 408.1,290.2 408.3,289.9 408.5,289.6 408.6,291.1 408.8,288.6 409.0,290.4 409.2,290.8 409.3,289.7 409.5,289.1 409.7,288.5 409.8,289.3 410.0,291.4 410.2,290.1 410.4,291.6 410.5,289.8 410.7,291.0 410.9,289.7 411.1,289.1 411.2,291.7 411.4,292.3 411.6,289.5 411.7,289.2 411.9,290.9 412.1,288.8 412.3,289.9 412.4,290.5 412.6,290.0 412.8,290.6 412.9,288.6 413.1,289.8 413.3,295.6 413.5,290.3 413.6,288.6 413.8,290.3 414.0,289.2 414.1,290.2 414.3,291.2 414.5,288.8 414.7,291.3 414.8,288.0 415.0,290.6 415.2,288.9 415.3,288.8 415.5,289.2 415.7,290.7 415.9,288.2 416.0,290.5 416.2,290.1 416.4,313.3 416.5,337.7 416.7,318.5 416.9,297.5 417.1,291.2 417.2,285.3 417.4,278.2 417.6,279.8 417.7,282.2 417.9,283.1 418.1,284.5 418.3,284.6 418.4,286.1 418.6,287.7 418.8,287.2 419.0,287.7 419.1,287.5 419.3,287.6 419.5,287.7 419.6,288.3 419.8,287.0 420.0,287.9 420.2,287.6 420.3,290.1 420.5,288.7 420.7,289.9 420.8,288.6 421.0,289.6 421.2,289.2 421.4,291.0 421.5,289.7 421.7,290.0 421.9,290.4 422.0,285.4 422.2,290.7 422.4,291.7 422.6,291.8 422.7,290.6 422.9,291.6 423.1,292.2 423.2,291.0 423.4,291.6 423.6,290.2 423.8,291.0 423.9,292.0 424.1,291.1 424.3,290.4 424.4,292.3 424.6,290.0 424.8,291.2 425.0,292.1 425.1,292.0 425.3,292.5 425.5,290.0 425.6,291.7 425.8,289.6 426.0,290.7 426.2,291.3 426.3,291.8 426.5,291.1 426.7,290.0 426.9,290.6 427.0,291.0 427.2,289.6 427.4,290.2 427.5,290.3 427.7,289.0 427.9,289.4 428.1,290.3 428.2,291.0 428.4,289.8 428.6,290.9 428.7,288.7 428.9,289.0 429.1,289.6 429.3,288.6 429.4,288.3 429.6,290.3 429.8,289.6 429.9,291.5 430.1,289.6 430.3,289.2 430.5,291.3 430.6,292.3 430.8,289.4 431.0,289.7 431.1,292.0 431.3,290.5 431.5,292.4 431.7,291.6 431.8,289.8 432.0,290.3 432.2,289.8 432.3,291.5 432.5,290.3 432.7,289.8 432.9,290.7 433.0,290.6 433.2,292.2 433.4,291.0 433.6,292.0 433.7,291.0 433.9,290.4 434.1,290.8 434.2,291.2 434.4,292.6 434.6,290.2 434.8,291.2 434.9,289.9 435.1,289.6 435.3,291.3 435.4,291.0 435.6,290.3 435.8,292.9 436.0,293.1 436.1,290.6 436.3,291.3 436.5,291.1 436.6,292.3 436.8,292.4 437.0,291.4 437.2,291.6 437.3,290.3 437.5,291.7 437.7,291.0 437.8,290.2 438.0,290.3 438.2,292.0 438.4,290.5 438.5,291.1 438.7,290.6 438.9,289.9 439.0,290.7 439.2,291.0 439.4,291.8 439.6,290.6 439.7,290.4 439.9,290.1 440.1,290.1 440.2,290.7 440.4,291.7 440.6,289.3 440.8,290.1 440.9,291.9 441.1,291.5 441.3,290.3 441.5,291.5 441.6,290.2 441.8,291.0 442.0,290.9 442.1,290.7 442.3,292.5 442.5,289.3 442.7,290.1 442.8,292.2 443.0,290.5 443.2,290.3 443.3,291.3 443.5,291.1 443.7,290.1 443.9,290.6 444.0,291.0 444.2,292.1 444.4,291.5 444.5,291.7 444.7,289.8 444.9,290.7 445.1,291.6 445.2,290.6 445.4,290.7 445.6,291.4 445.7,291.5 445.9,290.3 446.1,291.5 446.3,291.3 446.4,290.3 446.6,289.0 446.8,291.0 446.9,290.1 447.1,288.9 447.3,291.2 447.5,290.7 447.6,290.3 447.8,289.9 448.0,291.7 448.1,289.9 448.3,289.8 448.5,290.2 448.7,289.4 448.8,288.0 449.0,288.7 449.2,290.1 449.4,290.5 449.5,289.1 449.7,290.4 449.9,289.3 450.0,289.9 450.2,288.3 450.4,290.7 450.6,290.0 450.7,289.0 450.9,289.6 451.1,289.7 451.2,284.6 451.4,275.9 451.5,273.5 451.8,281.3 451.9,287.5 452.1,290.2 452.3,295.0 452.4,299.0 452.6,299.3 452.8,297.9 453.0,297.7 453.1,296.4 453.3,295.4 453.5,293.9 453.6,293.1 453.8,293.3 454.0,291.0 454.2,289.8 454.3,289.0 454.5,290.1 454.7,290.5 454.8,288.8 455.0,289.3 455.2,289.4 455.4,286.8 455.5,286.6 455.7,287.7 455.9,287.3 456.0,286.5 456.2,286.5 456.4,286.2 456.6,286.5 456.7,286.3 456.9,288.3 457.1,286.3 457.3,286.9 457.4,289.0 457.6,287.4 457.8,287.7 457.9,288.3 458.1,286.4 458.3,288.5 458.5,287.1 458.6,287.8 458.8,288.9 459.0,289.0 459.1,288.2 459.3,288.8 459.5,289.5 459.7,289.1 459.8,287.8 460.0,289.5 460.2,288.3 460.3,289.8 460.5,289.6 460.7,290.1 460.9,289.3 461.0,290.3 461.2,288.3 461.4,289.2 461.5,288.4 461.7,289.5 461.9,289.9 462.1,289.5 462.2,288.4 462.4,289.5 462.6,290.5 462.7,290.5 462.9,290.8 463.1,290.7 463.3,290.4 463.4,289.2 463.6,290.8 463.8,290.5 463.9,291.0 464.1,290.3 464.3,289.8 464.5,288.8 464.6,290.6 464.8,290.9 465.0,289.5 465.2,290.7 465.3,291.3 465.5,290.4 465.7,289.1 465.8,289.9 466.0,289.5 466.2,290.3 466.4,291.5 466.5,290.0 466.7,290.5 466.9,291.8 467.0,291.2 467.2,289.6 467.4,289.5 467.6,290.8 467.7,289.9 467.9,290.4 468.1,291.5 468.2,290.7 468.4,289.3 468.6,291.1 468.8,290.0 468.9,292.1 469.1,291.2 469.3,289.6 469.4,290.7 469.6,289.9 469.8,290.2 470.0,290.2 470.1,290.1 470.3,290.9 470.5,289.2 470.6,289.3 470.8,291.2 471.0,289.6 471.2,290.2 471.3,289.4 471.5,289.7 471.7,288.5 471.9,289.0 472.0,288.4 472.2,287.9 472.4,288.0 472.5,287.6 472.7,290.1 472.9,290.3 473.1,289.5 473.2,288.4 473.4,289.1 473.6,289.0 473.7,287.1 473.9,288.7 474.1,288.8 474.3,288.3 474.4,286.8 474.6,287.3 474.8,286.6 474.9,288.8 475.1,286.8 475.3,287.8 475.5,288.1 475.6,287.3 475.8,287.5 476.0,287.1 476.1,288.9 476.3,287.7 476.5,287.7 476.7,287.4 476.8,287.9 477.0,288.5 477.2,285.7 477.3,287.0 477.5,288.6 477.7,286.7 477.9,287.2 478.0,286.0 478.2,287.8 478.4,288.6 478.5,286.6 478.7,287.4 478.9,288.0 479.1,288.7 479.2,287.4 479.4,288.6 479.6,286.9 479.8,287.0 479.9,287.5 480.1,288.6 480.3,287.7 480.4,288.6 480.6,289.0 480.8,289.1 481.0,287.4 481.1,289.4 481.3,289.0 481.5,288.6 481.6,287.2 481.8,289.4 482.0,288.0 482.2,289.4 482.3,286.7 482.5,289.4 482.7,287.1 482.8,288.2 483.0,289.8 483.2,289.6 483.4,289.5 483.5,288.9 483.7,288.2 483.9,289.5 484.0,287.1 484.2,287.4 484.4,290.3 484.6,289.6 484.7,288.6 484.9,308.4 485.1,326.0 485.2,340.2 485.4,278.5 485.6,281.1 485.8,282.7 485.9,284.8 486.1,287.2 486.3,287.3 486.4,288.0 486.6,289.7 486.8,287.9 487.0,289.3 487.1,291.5 487.3,290.2 487.5,291.2 487.7,290.6 487.8,291.6 488.0,292.8 488.2,290.4 488.3,293.1 488.5,291.8 488.7,291.7 488.9,292.8 489.0,290.9 489.2,291.4 489.4,292.5 489.5,293.3 489.7,291.6 489.9,292.6 490.1,291.9 490.2,293.1 490.4,293.6 490.6,293.1 490.7,293.4 490.9,292.3 491.1,292.8 491.3,293.5 491.4,293.1 491.6,293.3 491.8,294.4 491.9,293.0 492.1,291.2 492.3,292.7 492.5,292.0 492.6,291.1 492.8,292.2 493.0,293.3 493.1,292.1 493.3,291.9 493.5,292.9 493.7,291.5 493.8,292.1 494.0,292.9 494.2,292.3 494.3,292.4 494.5,293.7 494.7,293.0 494.9,293.7 495.0,291.6 495.2,292.0 495.4,291.2 495.6,292.4 495.7,291.2 495.9,291.2 496.1,291.5 496.2,291.7 496.4,291.4 496.6,291.5 496.8,292.4 496.9,292.2 497.1,291.7 497.3,291.2 497.4,292.8 497.6,292.7 497.8,290.5 498.0,290.4 498.1,292.0 498.3,292.1 498.5,293.0 498.6,290.6 498.8,292.3 499.0,290.7 499.2,290.7 499.3,293.0 499.5,292.7 499.7,291.6 499.8,293.0 500.0,290.0 500.2,290.1 500.4,291.6 500.5,292.5 500.7,291.7 500.9,293.7 501.0,291.0 501.2,292.8 501.4,292.7 501.6,291.5 501.7,291.1 501.9,290.8 502.1,290.5 502.2,290.9 502.4,292.0 502.6,292.5 502.8,293.0 502.9,291.5 503.1,292.6 503.3,290.8 503.5,292.7 503.6,292.1 503.8,291.6 504.0,291.9 504.1,291.4 504.3,291.6 504.5,292.7 504.7,290.9 504.8,293.6 505.0,291.5 505.2,291.4 505.3,290.5 505.5,291.4 505.7,290.5 505.9,290.5 506.0,293.7 506.2,291.0 506.4,291.5 506.5,290.7 506.7,290.9 506.9,291.5 507.1,293.4 507.2,290.5 507.4,291.5 507.6,292.6 507.7,290.5 507.9,291.8 508.1,291.9 508.3,292.4 508.4,291.1 508.6,291.6 508.8,291.8 508.9,293.3 509.1,292.0 509.3,291.1 509.5,292.5 509.6,292.7 509.8,291.8 510.0,292.4 510.2,291.2 510.3,291.8 510.5,290.5 510.7,291.7 510.8,292.2 511.0,290.9 511.2,293.0 511.4,291.5 511.5,290.7 511.7,293.1 511.9,293.2 512.0,291.3 512.2,292.6 512.4,305.4 512.6,317.5 512.7,326.2 512.9,315.9 513.1,304.5 513.2,294.8 513.4,295.8 513.6,297.4 513.8,296.8 513.9,298.2 514.1,296.6 514.3,298.6"/><polyline fill="none" stroke="#edb120" stroke-width="2.1" stroke-linejoin="round" points="330.5,308.1 330.7,308.1 330.9,307.6 331.0,306.9 331.2,305.4 331.4,302.7 331.5,300.1 331.7,299.6 331.8,297.8 332.0,293.1 332.2,287.3 332.4,282.5 332.6,278.8 332.7,274.5 332.9,271.5 333.0,269.4 333.2,273.3 333.4,275.0 333.6,281.1 333.8,290.1 333.9,297.8 334.1,305.5 334.3,317.0 334.5,328.4 334.6,322.7 334.8,317.3 335.0,312.1 335.1,307.0 335.3,307.1 335.5,304.0 335.7,304.7 335.8,304.5 336.0,301.9 336.2,301.5 336.3,302.3 336.5,301.1 336.7,301.2 336.9,300.2 337.0,300.2 337.2,300.9 337.4,299.2 337.5,300.1 337.7,299.1 337.9,299.2 338.1,300.6 338.2,299.4 338.4,299.3 338.6,302.1 338.7,300.0 338.9,300.6 339.1,300.5 339.3,302.3 339.4,300.2 339.6,300.8 339.8,299.2 340.0,300.0 340.1,299.7 340.3,299.8 340.5,299.7 340.6,300.5 340.8,299.9 341.0,299.1 341.1,298.4 341.3,299.1 341.5,298.0 341.7,300.5 341.8,299.1 342.0,301.0 342.2,297.8 342.4,298.9 342.5,299.1 342.7,297.9 342.9,298.4 343.0,298.9 343.2,301.4 343.4,300.1 343.6,301.0 343.8,299.9 343.9,301.1 344.1,299.0 344.2,301.7 344.4,300.5 344.6,300.1 344.8,298.6 344.9,297.7 345.1,298.3 345.3,299.3 345.4,299.2 345.6,298.7 345.8,299.6 346.0,297.6 346.1,298.7 346.3,298.5 346.5,298.0 346.6,298.1 346.8,298.9 347.0,298.8 347.2,299.8 347.3,299.4 347.5,328.8 347.6,345.6 347.8,328.5 348.0,316.8 348.2,310.7 348.4,305.7 348.5,297.5 348.7,291.7 348.9,284.4 349.0,285.6 349.2,287.3 349.4,287.6 349.6,290.2 349.7,292.4 349.9,293.0 350.1,292.9 350.3,294.1 350.4,292.8 350.6,292.4 350.8,293.6 350.9,293.0 351.1,293.8 351.3,294.5 351.5,295.2 351.6,294.3 351.8,294.9 352.0,296.8 352.1,296.5 352.3,296.8 352.5,297.6 352.7,296.2 352.8,297.8 353.0,297.0 353.2,297.1 353.3,298.4 353.5,296.9 353.7,297.2 353.9,296.6 354.0,297.1 354.2,298.1 354.4,297.5 354.5,297.6 354.7,296.5 354.9,297.4 355.1,297.8 355.2,295.5 355.4,297.5 355.6,297.5 355.7,297.4 355.9,298.0 356.1,297.8 356.3,297.2 356.4,296.8 356.6,298.8 356.8,297.5 356.9,297.0 357.1,296.2 357.3,296.2 357.5,298.5 357.6,298.1 357.8,296.5 358.0,299.4 358.2,297.5 358.3,299.8 358.5,297.6 358.7,296.8 358.8,298.1 359.0,298.5 359.2,299.5 359.4,299.1 359.5,298.1 359.7,299.8 359.9,298.4 360.0,299.0 360.2,299.7 360.4,297.8 360.6,299.9 360.7,299.7 360.9,298.2 361.1,298.4 361.2,298.2 361.4,299.4 361.6,299.6 361.8,299.3 361.9,298.3 362.1,299.2 362.3,297.9 362.4,300.5 362.6,299.3 362.8,299.1 363.0,298.3 363.1,299.5 363.3,299.4 363.5,298.6 363.6,299.2 363.8,299.0 364.0,299.7 364.2,299.9 364.3,301.0 364.5,300.0 364.7,299.9 364.9,299.1 365.0,300.4 365.2,300.9 365.4,299.8 365.5,298.6 365.7,298.8 365.9,299.5 366.1,299.7 366.2,299.3 366.4,297.9 366.6,299.6 366.7,297.2 366.9,297.5 367.1,297.0 367.3,300.0 367.4,300.2 367.6,296.6 367.8,298.9 367.9,299.5 368.1,298.3 368.3,297.3 368.5,299.4 368.6,298.1 368.8,297.3 369.0,297.1 369.1,298.7 369.3,296.3 369.5,297.2 369.7,296.9 369.8,296.7 370.0,296.8 370.2,295.2 370.3,298.1 370.5,296.4 370.7,298.3 370.9,297.1 371.0,295.6 371.2,296.0 371.4,297.8 371.5,296.0 371.7,296.5 371.9,298.1 372.1,297.1 372.2,295.7 372.4,296.0 372.6,297.4 372.8,296.5 372.9,296.2 373.1,296.6 373.3,296.0 373.4,296.3 373.6,295.8 373.8,297.0 374.0,297.1 374.1,297.0 374.3,297.3 374.5,298.1 374.6,298.0 374.8,299.1 375.0,295.9 375.2,295.4 375.3,297.4 375.5,297.7 375.7,297.0 375.8,296.0 376.0,296.9 376.2,295.4 376.4,297.7 376.5,295.3 376.7,297.1 376.9,296.2 377.0,295.7 377.2,296.2 377.4,297.7 377.6,297.7 377.7,297.5 377.9,297.9 378.1,297.6 378.2,297.3 378.4,296.6 378.6,299.1 378.8,297.1 378.9,298.4 379.1,298.5 379.3,299.1 379.4,294.5 379.6,296.4 379.8,297.6 380.0,298.6 380.1,297.8 380.3,296.6 380.5,297.4 380.7,299.0 380.8,298.5 381.0,296.4 381.2,297.9 381.3,297.7 381.5,297.4 381.7,298.3 381.9,299.3 382.0,298.4 382.2,299.5 382.4,297.5 382.5,286.4 382.7,275.5 382.9,289.3 383.1,302.1 383.3,306.6 383.4,307.2 383.6,304.8 383.7,303.8 383.9,302.7 384.1,302.4 384.3,300.4 384.4,302.9 384.6,300.4 384.8,302.2 384.9,299.9 385.1,301.4 385.3,300.2 385.5,301.7 385.6,300.4 385.8,299.5 386.0,299.4 386.1,298.4 386.3,299.7 386.5,298.0 386.7,297.4 386.8,298.5 387.0,296.2 387.2,297.1 387.3,296.8 387.5,297.0 387.7,295.1 387.9,296.4 388.0,296.1 388.2,294.9 388.4,294.1 388.6,293.1 388.7,293.2 388.9,292.9 389.1,293.2 389.2,294.7 389.4,294.9 389.6,297.7 389.8,296.0 389.9,296.2 390.1,296.0 390.3,297.1 390.4,297.0 390.6,296.3 390.8,295.5 391.0,298.4 391.1,298.4 391.3,296.5 391.5,297.0 391.6,297.0 391.8,296.3 392.0,295.8 392.2,297.4 392.3,294.9 392.5,295.4 392.7,296.9 392.8,296.2 393.0,297.7 393.2,296.6 393.4,298.2 393.5,297.3 393.7,296.2 393.9,297.9 394.0,296.9 394.2,299.2 394.4,297.3 394.6,299.4 394.7,298.8 394.9,297.0 395.1,298.7 395.2,299.7 395.4,299.4 395.6,297.3 395.8,300.3 395.9,299.3 396.1,296.5 396.3,296.9 396.5,299.4 396.6,300.7 396.8,297.4 397.0,298.3 397.1,298.3 397.3,299.0 397.5,299.0 397.7,298.0 397.8,298.6 398.0,299.5 398.2,299.8 398.3,298.0 398.5,297.7 398.7,297.5 398.9,297.3 399.0,298.7 399.2,298.8 399.4,299.1 399.5,299.2 399.7,299.0 399.9,297.3 400.1,299.9 400.2,299.4 400.4,297.6 400.6,298.4 400.7,298.7 400.9,297.2 401.1,297.2 401.3,299.4 401.4,299.2 401.6,296.6 401.8,297.6 401.9,298.3 402.1,298.3 402.3,297.4 402.5,297.2 402.6,299.5 402.8,298.1 403.0,299.3 403.2,299.4 403.3,299.0 403.5,299.5 403.7,297.9 403.8,298.8 404.0,297.8 404.2,298.9 404.4,299.2 404.5,300.1 404.7,299.4 404.9,297.6 405.0,299.5 405.2,298.7 405.4,299.3 405.6,297.7 405.7,298.3 405.9,298.4 406.1,298.4 406.2,302.7 406.4,298.8 406.6,298.6 406.8,298.6 406.9,297.8 407.1,297.5 407.3,300.3 407.4,299.2 407.6,299.7 407.8,299.2 408.0,297.9 408.1,297.4 408.3,297.7 408.5,300.5 408.6,297.6 408.8,298.1 409.0,299.1 409.2,298.1 409.3,299.5 409.5,299.9 409.7,298.0 409.8,300.5 410.0,300.0 410.2,298.5 410.4,297.8 410.5,298.5 410.7,299.5 410.9,299.4 411.1,298.1 411.2,298.4 411.4,299.1 411.6,299.4 411.7,299.1 411.9,297.0 412.1,299.9 412.3,298.1 412.4,297.4 412.6,297.9 412.8,299.1 412.9,297.9 413.1,299.8 413.3,298.6 413.5,299.1 413.6,297.9 413.8,298.2 414.0,297.4 414.1,298.4 414.3,297.8 414.5,297.3 414.7,299.6 414.8,299.2 415.0,299.8 415.2,300.4 415.3,297.8 415.5,300.4 415.7,298.5 415.9,299.0 416.0,298.6 416.2,321.1 416.4,345.0 416.5,331.5 416.7,317.2 416.9,308.7 417.1,299.1 417.2,291.1 417.3,286.8 417.6,288.2 417.7,290.7 417.9,290.6 418.1,289.7 418.3,290.4 418.4,292.2 418.6,293.5 418.8,293.2 419.0,291.5 419.1,292.6 419.3,293.1 419.5,291.9 419.6,292.3 419.8,294.4 420.0,293.2 420.2,294.5 420.3,294.6 420.5,293.5 420.7,294.3 420.8,294.2 421.0,295.9 421.2,297.9 421.4,297.0 421.5,299.3 421.7,300.9 421.9,298.3 422.0,301.5 422.2,302.5 422.5,302.1 422.6,303.5 422.7,300.7 422.9,302.8 423.1,302.4 423.2,299.7 423.4,300.1 423.6,298.6 423.8,298.2 423.9,298.7 424.1,301.1 424.3,299.1 424.4,300.6 424.6,299.8 424.8,296.3 425.0,297.6 425.1,297.5 425.3,297.0 425.5,295.6 425.6,296.1 425.8,294.5 426.0,296.1 426.2,295.1 426.3,295.1 426.5,296.3 426.7,296.3 426.9,296.8 427.0,295.9 427.2,298.2 427.4,296.9 427.5,296.4 427.7,297.7 427.9,297.6 428.1,298.8 428.2,296.2 428.4,295.6 428.6,295.0 428.7,296.0 428.9,296.1 429.1,298.2 429.3,295.5 429.4,296.6 429.6,296.0 429.8,297.6 429.9,296.0 430.1,297.7 430.3,295.0 430.5,296.8 430.6,296.3 430.8,296.4 431.0,297.6 431.1,297.0 431.3,297.8 431.5,297.7 431.7,297.4 431.8,297.9 432.0,296.9 432.2,297.7 432.3,298.1 432.5,297.3 432.7,295.0 432.9,297.1 433.0,297.5 433.2,298.2 433.4,298.6 433.6,297.2 433.7,297.2 433.9,296.8 434.1,298.7 434.2,293.8 434.4,297.1 434.6,297.3 434.8,298.4 434.9,298.1 435.1,298.9 435.3,296.8 435.4,298.9 435.6,297.8 435.8,298.2 436.0,297.1 436.1,298.2 436.3,298.4 436.5,297.8 436.6,297.8 436.8,297.7 437.0,298.8 437.2,298.1 437.3,298.6 437.5,298.1 437.7,296.9 437.8,296.5 438.0,297.4 438.2,295.7 438.4,296.1 438.5,297.8 438.7,298.4 438.9,298.2 439.0,297.8 439.2,296.8 439.4,297.1 439.6,298.2 439.7,298.6 439.9,298.2 440.1,296.3 440.2,296.4 440.4,296.7 440.6,295.2 440.8,297.5 440.9,298.6 441.1,296.7 441.3,295.5 441.5,295.0 441.6,296.2 441.8,297.3 442.0,296.5 442.1,296.9 442.3,295.0 442.5,297.3 442.7,297.9 442.8,297.4 443.0,296.5 443.2,295.9 443.3,296.1 443.5,296.1 443.7,296.7 443.9,298.1 444.0,299.0 444.2,298.7 444.4,298.1 444.5,299.2 444.7,297.9 444.9,299.4 445.1,296.2 445.2,298.6 445.4,296.1 445.6,297.9 445.7,296.9 445.9,297.2 446.1,296.0 446.3,298.8 446.4,298.3 446.6,298.0 446.8,298.2 446.9,298.1 447.1,298.6 447.3,299.7 447.5,298.3 447.6,297.4 447.8,297.5 448.0,298.8 448.1,296.4 448.3,297.1 448.5,298.3 448.7,299.5 448.8,296.8 449.0,295.2 449.2,297.8 449.4,297.0 449.5,297.8 449.7,297.5 449.9,299.6 450.0,298.5 450.2,296.4 450.4,298.6 450.6,299.2 450.7,298.2 450.9,287.6 451.1,275.5 451.2,284.1 451.4,291.3 451.6,299.9 451.8,301.8 451.9,303.8 452.1,306.5 452.3,308.3 452.4,308.8 452.6,306.1 452.8,305.7 453.0,304.2 453.1,301.6 453.3,301.4 453.5,300.0 453.6,300.6 453.8,297.7 454.0,298.0 454.2,296.9 454.3,298.1 454.5,297.0 454.7,296.8 454.8,295.4 455.0,294.7 455.2,293.4 455.4,294.8 455.5,294.6 455.7,294.8 455.9,294.6 456.0,294.3 456.2,294.6 456.4,295.8 456.6,296.8 456.7,295.6 456.9,294.4 457.1,296.5 457.3,295.0 457.4,294.2 457.6,295.0 457.8,296.2 457.9,294.0 458.1,296.6 458.3,295.5 458.5,293.0 458.6,294.8 458.8,294.9 459.0,295.3 459.1,295.2 459.3,295.0 459.5,293.1 459.7,294.3 459.8,295.9 460.0,294.7 460.2,294.8 460.3,295.1 460.5,297.1 460.7,297.0 460.9,294.4 461.0,296.4 461.2,294.6 461.4,294.5 461.5,294.3 461.7,296.1 461.9,293.5 462.1,294.2 462.2,296.1 462.4,294.5 462.6,296.6 462.7,294.4 462.9,296.1 463.1,295.5 463.3,295.5 463.4,298.1 463.6,293.2 463.8,296.0 463.9,296.7 464.1,295.7 464.3,296.5 464.5,295.4 464.6,296.6 464.8,295.6 465.0,294.6 465.2,294.0 465.3,294.9 465.5,295.7 465.7,295.7 465.8,295.6 466.0,294.1 466.2,294.9 466.4,295.9 466.5,296.6 466.7,295.8 466.9,295.7 467.0,297.3 467.2,296.8 467.4,296.2 467.6,296.6 467.7,296.5 467.9,297.0 468.1,295.8 468.2,294.8 468.4,296.8 468.6,295.3 468.8,297.1 468.9,296.4 469.1,295.3 469.3,296.1 469.4,295.2 469.6,295.4 469.8,296.3 470.0,294.7 470.1,295.0 470.3,295.5 470.5,296.6 470.6,295.3 470.8,296.9 471.0,296.4 471.2,298.1 471.3,295.4 471.5,297.5 471.7,296.0 471.9,299.1 472.0,296.6 472.2,295.7 472.4,296.4 472.5,295.7 472.7,296.0 472.9,297.7 473.1,297.0 473.2,295.0 473.4,296.1 473.6,292.1 473.7,296.2 473.9,296.0 474.1,295.3 474.3,294.3 474.4,297.5 474.6,297.9 474.8,296.9 474.9,296.8 475.1,296.1 475.3,294.4 475.5,296.4 475.6,295.6 475.8,294.1 476.0,295.3 476.1,295.1 476.3,295.3 476.5,295.0 476.7,295.0 476.8,295.0 477.0,295.4 477.2,296.5 477.3,293.9 477.5,294.2 477.7,295.2 477.9,296.2 478.0,294.4 478.2,296.1 478.4,295.9 478.5,296.0 478.7,293.9 478.9,295.1 479.1,295.9 479.2,295.8 479.4,295.0 479.6,295.8 479.8,294.2 479.9,294.4 480.1,296.5 480.3,294.2 480.4,294.5 480.6,296.1 480.8,294.5 481.0,295.3 481.1,294.8 481.3,297.0 481.5,295.4 481.6,294.8 481.8,294.8 482.0,296.4 482.2,294.6 482.3,295.4 482.5,295.7 482.7,296.1 482.8,296.5 483.0,296.4 483.2,296.1 483.4,294.3 483.5,296.6 483.7,295.9 483.9,296.1 484.0,295.8 484.2,296.0 484.4,293.8 484.6,295.6 484.7,293.6 484.9,295.0 485.1,313.3 485.3,344.5 485.4,336.3 485.6,319.6 485.8,304.9 485.9,298.6 486.1,292.1 486.3,288.5 486.4,281.0 486.6,282.6 486.8,280.4 487.0,286.0 487.1,288.4 487.3,288.6 487.5,292.1 487.7,293.5 487.8,291.6 488.0,293.6 488.2,294.3 488.3,294.4 488.5,295.1 488.7,295.1 488.9,297.7 489.0,298.4 489.2,297.9 489.4,298.7 489.5,298.2 489.7,297.9 489.9,298.9 490.1,298.0 490.2,298.3 490.4,298.6 490.6,299.5 490.7,297.0 490.9,298.0 491.1,296.8 491.3,297.3 491.4,298.8 491.6,297.7 491.8,297.5 491.9,296.5 492.1,299.1 492.3,296.0 492.5,296.8 492.6,297.8 492.8,298.2 493.0,297.0 493.1,298.7 493.3,298.2 493.5,298.6 493.7,297.6 493.8,298.1 494.0,296.1 494.2,296.0 494.3,296.0 494.5,296.0 494.7,295.1 494.9,294.9 495.0,296.3 495.2,294.8 495.4,294.5 495.6,295.6 495.7,294.5 495.9,295.3 496.1,296.1 496.2,296.3 496.4,296.0 496.6,296.2 496.8,295.3 496.9,296.1 497.1,294.8 497.3,294.3 497.4,293.8 497.6,294.1 497.8,294.6 498.0,294.0 498.1,294.3 498.3,295.1 498.5,293.7 498.6,296.4 498.8,296.5 499.0,296.0 499.2,295.8 499.3,293.8 499.5,294.8 499.7,293.7 499.8,294.4 500.0,296.0 500.2,293.9 500.4,293.9 500.5,295.9 500.7,294.2 500.9,294.9 501.0,296.1 501.2,295.8 501.4,294.8 501.6,296.4 501.7,295.1 501.9,294.9 502.1,295.1 502.2,295.8 502.4,293.6 502.6,295.1 502.8,294.3 502.9,294.5 503.1,295.5 503.3,294.5 503.5,295.0 503.6,293.7 503.8,295.7 504.0,295.5 504.1,295.9 504.3,295.7 504.5,294.1 504.7,295.3 504.8,294.0 505.0,297.0 505.2,296.6 505.3,295.8 505.5,294.7 505.7,294.4 505.9,295.4 506.0,295.6 506.2,294.4 506.4,296.1 506.5,294.5 506.7,296.1 506.9,294.9 507.1,296.1 507.2,297.0 507.4,297.0 507.6,297.3 507.7,296.8 507.9,297.3 508.1,295.8 508.3,295.0 508.4,295.5 508.6,293.8 508.8,293.7 508.9,294.4 509.1,294.1 509.3,295.8 509.5,295.0 509.6,297.2 509.8,297.4 510.0,296.6 510.2,297.0 510.3,295.1 510.5,297.6 510.7,296.1 510.8,295.5 511.0,295.2 511.2,296.1 511.4,298.0 511.5,297.4 511.7,296.1 511.9,296.0 512.0,295.1 512.2,296.6 512.4,314.2 512.6,330.3 512.7,320.3 512.9,309.2 513.1,298.6 513.2,299.7 513.4,296.0 513.6,298.0 513.8,296.8 513.9,297.1 514.1,297.0 514.3,297.6 514.4,296.0 514.6,297.7 514.8,299.8 515.0,298.3 515.1,300.2 515.3,298.9 515.5,302.0 515.6,301.2 515.8,300.8 516.0,301.8"/><path d="M59.2,26.0 V155.5 H265.4" fill="none" stroke="#8e8e8e" stroke-width="1.3"/><line x1="59.2" y1="155.5" x2="61.2" y2="155.5" stroke="#8e8e8e" stroke-width="1"/><line x1="59.2" y1="90.8" x2="61.2" y2="90.8" stroke="#8e8e8e" stroke-width="1"/><line x1="59.2" y1="26.0" x2="61.2" y2="26.0" stroke="#8e8e8e" stroke-width="1"/><line x1="59.2" y1="155.5" x2="59.2" y2="153.5" stroke="#8e8e8e" stroke-width="1"/><line x1="127.9" y1="155.5" x2="127.9" y2="153.5" stroke="#8e8e8e" stroke-width="1"/><line x1="196.7" y1="155.5" x2="196.7" y2="153.5" stroke="#8e8e8e" stroke-width="1"/><line x1="265.4" y1="155.5" x2="265.4" y2="153.5" stroke="#8e8e8e" stroke-width="1"/><path d="M330.4,26.0 V155.6 H536.6" fill="none" stroke="#8e8e8e" stroke-width="1.3"/><line x1="330.4" y1="155.6" x2="332.4" y2="155.6" stroke="#8e8e8e" stroke-width="1"/><line x1="330.4" y1="112.4" x2="332.4" y2="112.4" stroke="#8e8e8e" stroke-width="1"/><line x1="330.4" y1="69.2" x2="332.4" y2="69.2" stroke="#8e8e8e" stroke-width="1"/><line x1="330.4" y1="26.0" x2="332.4" y2="26.0" stroke="#8e8e8e" stroke-width="1"/><line x1="330.4" y1="155.6" x2="330.4" y2="153.6" stroke="#8e8e8e" stroke-width="1"/><line x1="399.1" y1="155.6" x2="399.1" y2="153.6" stroke="#8e8e8e" stroke-width="1"/><line x1="467.9" y1="155.6" x2="467.9" y2="153.6" stroke="#8e8e8e" stroke-width="1"/><line x1="536.6" y1="155.6" x2="536.6" y2="153.6" stroke="#8e8e8e" stroke-width="1"/><path d="M59.2,214.7 V345.6 H265.4" fill="none" stroke="#8e8e8e" stroke-width="1.3"/><line x1="59.2" y1="339.0" x2="61.2" y2="339.0" stroke="#8e8e8e" stroke-width="1"/><line x1="59.2" y1="296.8" x2="61.2" y2="296.8" stroke="#8e8e8e" stroke-width="1"/><line x1="59.2" y1="254.5" x2="61.2" y2="254.5" stroke="#8e8e8e" stroke-width="1"/><line x1="59.2" y1="345.6" x2="59.2" y2="343.6" stroke="#8e8e8e" stroke-width="1"/><line x1="127.9" y1="345.6" x2="127.9" y2="343.6" stroke="#8e8e8e" stroke-width="1"/><line x1="196.7" y1="345.6" x2="196.7" y2="343.6" stroke="#8e8e8e" stroke-width="1"/><line x1="265.4" y1="345.6" x2="265.4" y2="343.6" stroke="#8e8e8e" stroke-width="1"/><path d="M330.5,268.8 V345.8 H536.6" fill="none" stroke="#8e8e8e" stroke-width="1.3"/><line x1="330.5" y1="341.7" x2="332.5" y2="341.7" stroke="#8e8e8e" stroke-width="1"/><line x1="330.5" y1="317.1" x2="332.5" y2="317.1" stroke="#8e8e8e" stroke-width="1"/><line x1="330.5" y1="292.5" x2="332.5" y2="292.5" stroke="#8e8e8e" stroke-width="1"/><line x1="330.5" y1="345.8" x2="330.5" y2="343.8" stroke="#8e8e8e" stroke-width="1"/><line x1="399.2" y1="345.8" x2="399.2" y2="343.8" stroke="#8e8e8e" stroke-width="1"/><line x1="467.9" y1="345.8" x2="467.9" y2="343.8" stroke="#8e8e8e" stroke-width="1"/><line x1="536.6" y1="345.8" x2="536.6" y2="343.8" stroke="#8e8e8e" stroke-width="1"/><line x1="189.5" y1="45" x2="221.7" y2="45" stroke="#0000ff" stroke-width="1.8"/><line x1="447.9" y1="44.9" x2="480.5" y2="44.9" stroke="#ff0000" stroke-width="1.8"/><line x1="155.4" y1="234.7" x2="187.5" y2="234.7" stroke="#edb120" stroke-width="1.8"/><line x1="280.6" y1="227.1" x2="312.7" y2="227.1" stroke="#0000ff" stroke-width="1.8"/><line x1="351.8" y1="227.1" x2="383.9" y2="227.1" stroke="#ff0000" stroke-width="1.8"/><line x1="434.7" y1="227.1" x2="466.5" y2="227.1" stroke="#edb120" stroke-width="1.8"/><g style="font-family:'Liberation Serif','DejaVu Serif',serif;font-size:17.1px;fill:#141414"><text x="55.0" y="159.5" text-anchor="end" textLength="25.8" lengthAdjust="spacingAndGlyphs" font-size="17.6">300</text><text x="55.0" y="94.8" text-anchor="end" textLength="25.8" lengthAdjust="spacingAndGlyphs" font-size="17.6">400</text><text x="55.0" y="30.0" text-anchor="end" textLength="25.8" lengthAdjust="spacingAndGlyphs" font-size="17.6">500</text><text x="59.2" y="175.3" text-anchor="middle" textLength="9.0" lengthAdjust="spacingAndGlyphs" font-size="17.6">0</text><text x="127.9" y="175.3" text-anchor="middle" textLength="17.2" lengthAdjust="spacingAndGlyphs" font-size="17.6">20</text><text x="196.7" y="175.3" text-anchor="middle" textLength="17.2" lengthAdjust="spacingAndGlyphs" font-size="17.6">40</text><text x="265.4" y="175.3" text-anchor="middle" textLength="17.2" lengthAdjust="spacingAndGlyphs" font-size="17.6">60</text><text x="325.4" y="159.6" text-anchor="end" textLength="25.8" lengthAdjust="spacingAndGlyphs" font-size="17.6">200</text><text x="325.4" y="116.4" text-anchor="end" textLength="25.8" lengthAdjust="spacingAndGlyphs" font-size="17.6">300</text><text x="325.4" y="73.2" text-anchor="end" textLength="25.8" lengthAdjust="spacingAndGlyphs" font-size="17.6">400</text><text x="325.4" y="30.0" text-anchor="end" textLength="25.8" lengthAdjust="spacingAndGlyphs" font-size="17.6">500</text><text x="330.4" y="175.5" text-anchor="middle" textLength="9.0" lengthAdjust="spacingAndGlyphs" font-size="17.6">0</text><text x="399.1" y="175.5" text-anchor="middle" textLength="17.2" lengthAdjust="spacingAndGlyphs" font-size="17.6">20</text><text x="467.9" y="175.5" text-anchor="middle" textLength="17.2" lengthAdjust="spacingAndGlyphs" font-size="17.6">40</text><text x="536.6" y="175.5" text-anchor="middle" textLength="17.2" lengthAdjust="spacingAndGlyphs" font-size="17.6">60</text><text x="55.0" y="343.0" text-anchor="end" textLength="25.8" lengthAdjust="spacingAndGlyphs" font-size="17.6">200</text><text x="55.0" y="300.8" text-anchor="end" textLength="25.8" lengthAdjust="spacingAndGlyphs" font-size="17.6">300</text><text x="55.0" y="258.5" text-anchor="end" textLength="25.8" lengthAdjust="spacingAndGlyphs" font-size="17.6">400</text><text x="59.2" y="365.6" text-anchor="middle" textLength="9.0" lengthAdjust="spacingAndGlyphs" font-size="17.6">0</text><text x="127.9" y="365.6" text-anchor="middle" textLength="17.2" lengthAdjust="spacingAndGlyphs" font-size="17.6">20</text><text x="196.7" y="365.6" text-anchor="middle" textLength="17.2" lengthAdjust="spacingAndGlyphs" font-size="17.6">40</text><text x="265.4" y="365.6" text-anchor="middle" textLength="17.2" lengthAdjust="spacingAndGlyphs" font-size="17.6">60</text><text x="325.4" y="345.7" text-anchor="end" textLength="25.8" lengthAdjust="spacingAndGlyphs" font-size="17.6">200</text><text x="325.4" y="321.1" text-anchor="end" textLength="25.8" lengthAdjust="spacingAndGlyphs" font-size="17.6">300</text><text x="325.4" y="296.5" text-anchor="end" textLength="25.8" lengthAdjust="spacingAndGlyphs" font-size="17.6">400</text><text x="330.5" y="365.8" text-anchor="middle" textLength="9.0" lengthAdjust="spacingAndGlyphs" font-size="17.6">0</text><text x="399.2" y="365.8" text-anchor="middle" textLength="17.2" lengthAdjust="spacingAndGlyphs" font-size="17.6">20</text><text x="467.9" y="365.8" text-anchor="middle" textLength="17.2" lengthAdjust="spacingAndGlyphs" font-size="17.6">40</text><text x="536.6" y="365.8" text-anchor="middle" textLength="17.2" lengthAdjust="spacingAndGlyphs" font-size="17.6">60</text><text x="162.5" y="17.7" text-anchor="middle" textLength="57.5" lengthAdjust="spacingAndGlyphs" >M1 PID</text><text x="433.0" y="17.7" text-anchor="middle" textLength="68.7" lengthAdjust="spacingAndGlyphs" >M1 APID</text><text x="162.7" y="207.5" text-anchor="middle" textLength="91.3" lengthAdjust="spacingAndGlyphs" >M1 APIDFC</text><text x="433.0" y="260.8" text-anchor="middle" textLength="113.6" lengthAdjust="spacingAndGlyphs" >M1 Comparison</text><text x="162.7" y="385.0" text-anchor="middle" textLength="67.5" lengthAdjust="spacingAndGlyphs" >Times (s)</text><text x="433.6" y="385.0" text-anchor="middle" textLength="67.5" lengthAdjust="spacingAndGlyphs" >Times (s)</text><text transform="translate(21,91.5) rotate(-90)" x="0" y="0" text-anchor="middle" textLength="131.2" lengthAdjust="spacingAndGlyphs">Speed (rotation/s)</text><text transform="translate(21,284.5) rotate(-90)" x="0" y="0" text-anchor="middle" textLength="131.2" lengthAdjust="spacingAndGlyphs">Speed (rotation/s)</text><text x="224.3" y="48.8" text-anchor="start" textLength="28.3" lengthAdjust="spacingAndGlyphs" >PID</text><text x="483.6" y="48.7" text-anchor="start" textLength="40.5" lengthAdjust="spacingAndGlyphs" >APID</text><text x="190.3" y="238.9" text-anchor="start" textLength="62.6" lengthAdjust="spacingAndGlyphs" >APIDFC</text><text x="315.8" y="231.0" text-anchor="start" textLength="28.8" lengthAdjust="spacingAndGlyphs" >PID</text><text x="386.6" y="231.0" text-anchor="start" textLength="41.1" lengthAdjust="spacingAndGlyphs" >APID</text><text x="470.6" y="231.0" text-anchor="start" textLength="63.2" lengthAdjust="spacingAndGlyphs" >APIDFC</text></g></svg></body></html>
